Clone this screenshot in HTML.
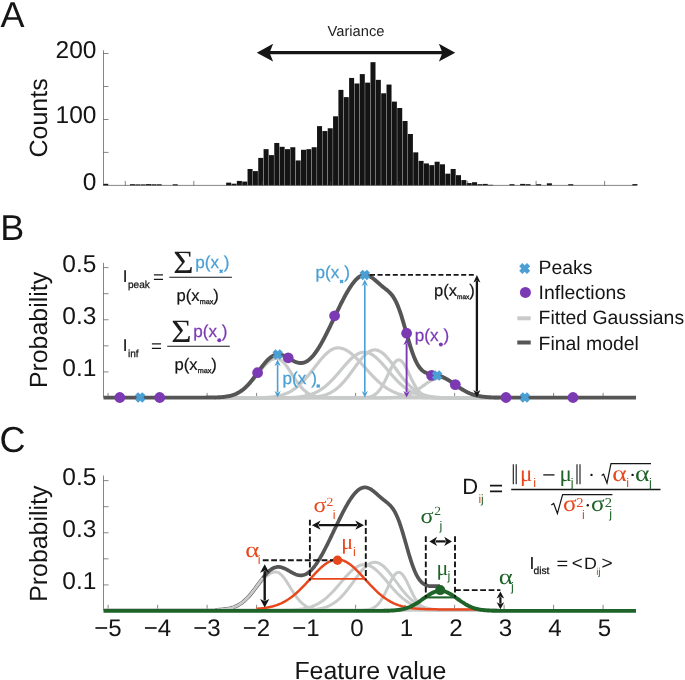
<!DOCTYPE html>
<html><head><meta charset="utf-8"><title>Figure</title>
<style>html,body{margin:0;padding:0;background:#fff}svg{display:block}text{text-rendering:geometricPrecision}</style></head>
<body>
<svg width="685" height="680" viewBox="0 0 685 680">
<rect width="685" height="680" fill="#ffffff"/>
<text transform="translate(0.5 26.8) scale(1 1)" font-size="36" fill="#151515" text-anchor="start" font-family='"Liberation Sans", sans-serif' >A</text>
<text transform="translate(0.2 240.1) scale(1 1)" font-size="36" fill="#151515" text-anchor="start" font-family='"Liberation Sans", sans-serif' >B</text>
<text transform="translate(-0.4 451.5) scale(1 1)" font-size="36" fill="#151515" text-anchor="start" font-family='"Liberation Sans", sans-serif' >C</text>
<g fill="#141414">
<rect x="103.23" y="183.80" width="5.02" height="1.60"/>
<rect x="129.95" y="184.20" width="5.02" height="1.20"/>
<rect x="135.29" y="184.40" width="5.02" height="1.00"/>
<rect x="140.64" y="184.40" width="5.02" height="1.00"/>
<rect x="145.98" y="184.10" width="5.02" height="1.30"/>
<rect x="151.33" y="184.30" width="5.02" height="1.10"/>
<rect x="156.67" y="184.30" width="5.02" height="1.10"/>
<rect x="172.71" y="184.30" width="5.02" height="1.10"/>
<rect x="226.16" y="182.63" width="5.02" height="2.77"/>
<rect x="231.50" y="183.69" width="5.02" height="1.71"/>
<rect x="236.85" y="180.92" width="5.02" height="4.48"/>
<rect x="242.19" y="181.56" width="5.02" height="3.84"/>
<rect x="247.54" y="168.98" width="5.02" height="16.42"/>
<rect x="252.88" y="171.11" width="5.02" height="14.29"/>
<rect x="258.23" y="157.89" width="5.02" height="27.51"/>
<rect x="263.58" y="149.15" width="5.02" height="36.25"/>
<rect x="268.92" y="155.12" width="5.02" height="30.28"/>
<rect x="274.27" y="142.97" width="5.02" height="42.43"/>
<rect x="279.61" y="146.81" width="5.02" height="38.59"/>
<rect x="284.96" y="149.15" width="5.02" height="36.25"/>
<rect x="290.30" y="147.23" width="5.02" height="38.17"/>
<rect x="295.65" y="160.45" width="5.02" height="24.95"/>
<rect x="300.99" y="149.79" width="5.02" height="35.61"/>
<rect x="306.34" y="149.15" width="5.02" height="36.25"/>
<rect x="311.68" y="147.23" width="5.02" height="38.17"/>
<rect x="317.03" y="126.12" width="5.02" height="59.28"/>
<rect x="322.37" y="131.03" width="5.02" height="54.37"/>
<rect x="327.72" y="128.26" width="5.02" height="57.14"/>
<rect x="333.06" y="116.32" width="5.02" height="69.08"/>
<rect x="338.41" y="89.88" width="5.02" height="95.52"/>
<rect x="343.75" y="97.13" width="5.02" height="88.27"/>
<rect x="349.10" y="77.94" width="5.02" height="107.46"/>
<rect x="354.44" y="83.48" width="5.02" height="101.92"/>
<rect x="359.79" y="74.10" width="5.02" height="111.30"/>
<rect x="365.13" y="82.63" width="5.02" height="102.77"/>
<rect x="370.48" y="62.16" width="5.02" height="123.24"/>
<rect x="375.82" y="79.86" width="5.02" height="105.54"/>
<rect x="381.17" y="93.29" width="5.02" height="92.11"/>
<rect x="386.51" y="84.55" width="5.02" height="100.85"/>
<rect x="391.86" y="101.60" width="5.02" height="83.80"/>
<rect x="397.20" y="108.00" width="5.02" height="77.40"/>
<rect x="402.55" y="121.01" width="5.02" height="64.39"/>
<rect x="407.89" y="134.01" width="5.02" height="51.39"/>
<rect x="413.24" y="152.35" width="5.02" height="33.05"/>
<rect x="418.58" y="160.88" width="5.02" height="24.52"/>
<rect x="423.93" y="163.44" width="5.02" height="21.96"/>
<rect x="429.27" y="165.14" width="5.02" height="20.26"/>
<rect x="434.62" y="161.73" width="5.02" height="23.67"/>
<rect x="439.96" y="164.29" width="5.02" height="21.11"/>
<rect x="445.31" y="173.67" width="5.02" height="11.73"/>
<rect x="450.65" y="168.98" width="5.02" height="16.42"/>
<rect x="456.00" y="175.17" width="5.02" height="10.23"/>
<rect x="461.34" y="180.07" width="5.02" height="5.33"/>
<rect x="466.69" y="183.05" width="5.02" height="2.35"/>
<rect x="472.03" y="182.20" width="5.02" height="3.20"/>
<rect x="477.38" y="184.20" width="5.02" height="1.20"/>
<rect x="482.72" y="183.90" width="5.02" height="1.50"/>
<rect x="488.06" y="184.80" width="5.02" height="0.60"/>
<rect x="509.44" y="184.20" width="5.02" height="1.20"/>
<rect x="520.13" y="183.90" width="5.02" height="1.50"/>
<rect x="525.48" y="184.20" width="5.02" height="1.20"/>
<rect x="536.17" y="184.20" width="5.02" height="1.20"/>
<rect x="546.86" y="183.30" width="5.02" height="2.10"/>
<rect x="568.24" y="184.20" width="5.02" height="1.20"/>
<rect x="632.38" y="184.10" width="5.02" height="1.30"/>
</g>
<line x1="103.50" y1="50.30" x2="103.50" y2="185.70" stroke="#444444" stroke-width="0.65" />
<line x1="103.50" y1="185.40" x2="637.20" y2="185.40" stroke="#444444" stroke-width="0.65" />
<line x1="103.50" y1="53.50" x2="108.50" y2="53.50" stroke="#444444" stroke-width="0.65" />
<line x1="103.50" y1="86.50" x2="108.50" y2="86.50" stroke="#444444" stroke-width="0.65" />
<line x1="103.50" y1="119.50" x2="108.50" y2="119.50" stroke="#444444" stroke-width="0.65" />
<line x1="103.50" y1="152.40" x2="108.50" y2="152.40" stroke="#444444" stroke-width="0.65" />
<line x1="125.30" y1="185.40" x2="125.30" y2="180.90" stroke="#444444" stroke-width="0.65" />
<line x1="193.80" y1="185.40" x2="193.80" y2="180.90" stroke="#444444" stroke-width="0.65" />
<line x1="262.20" y1="185.40" x2="262.20" y2="180.90" stroke="#444444" stroke-width="0.65" />
<line x1="330.70" y1="185.40" x2="330.70" y2="180.90" stroke="#444444" stroke-width="0.65" />
<line x1="399.20" y1="185.40" x2="399.20" y2="180.90" stroke="#444444" stroke-width="0.65" />
<line x1="467.70" y1="185.40" x2="467.70" y2="180.90" stroke="#444444" stroke-width="0.65" />
<line x1="536.10" y1="185.40" x2="536.10" y2="180.90" stroke="#444444" stroke-width="0.65" />
<line x1="604.60" y1="185.40" x2="604.60" y2="180.90" stroke="#444444" stroke-width="0.65" />
<text transform="translate(96.4 58.0) scale(1.0 1)" font-size="24.5" fill="#151515" text-anchor="end" font-family='"Liberation Sans", sans-serif' >200</text>
<text transform="translate(96.4 123.0) scale(1.0 1)" font-size="24.5" fill="#151515" text-anchor="end" font-family='"Liberation Sans", sans-serif' >100</text>
<text transform="translate(96.4 189.5) scale(1.0 1)" font-size="24.5" fill="#151515" text-anchor="end" font-family='"Liberation Sans", sans-serif' >0</text>
<text transform="translate(47.2,117.9) rotate(-90)" font-size="25" fill="#151515" text-anchor="middle" font-family='"Liberation Sans", sans-serif'>Counts</text>
<text transform="translate(356 35.6) scale(1 1)" font-size="14.7" fill="#222222" text-anchor="middle" font-family='"Liberation Sans", sans-serif' >Variance</text>
<line x1="266.80" y1="52.70" x2="445.20" y2="52.70" stroke="#151515" stroke-width="3.3" />
<path d="M256.8,52.7 L273.1,43.800000000000004 L269.6,52.7 L273.1,61.6Z" fill="#151515"/>
<path d="M455.2,52.7 L438.9,43.800000000000004 L442.4,52.7 L438.9,61.6Z" fill="#151515"/>
<line x1="103.50" y1="262.90" x2="103.50" y2="397.60" stroke="#444444" stroke-width="0.65" />
<line x1="103.50" y1="371.92" x2="108.50" y2="371.92" stroke="#444444" stroke-width="0.65" />
<line x1="103.50" y1="345.84" x2="108.50" y2="345.84" stroke="#444444" stroke-width="0.65" />
<line x1="103.50" y1="319.76" x2="108.50" y2="319.76" stroke="#444444" stroke-width="0.65" />
<line x1="103.50" y1="293.68" x2="108.50" y2="293.68" stroke="#444444" stroke-width="0.65" />
<line x1="103.50" y1="267.60" x2="108.50" y2="267.60" stroke="#444444" stroke-width="0.65" />
<line x1="108.10" y1="397.60" x2="108.10" y2="392.90" stroke="#444444" stroke-width="0.65" />
<line x1="157.60" y1="397.60" x2="157.60" y2="392.90" stroke="#444444" stroke-width="0.65" />
<line x1="207.10" y1="397.60" x2="207.10" y2="392.90" stroke="#444444" stroke-width="0.65" />
<line x1="256.60" y1="397.60" x2="256.60" y2="392.90" stroke="#444444" stroke-width="0.65" />
<line x1="306.10" y1="397.60" x2="306.10" y2="392.90" stroke="#444444" stroke-width="0.65" />
<line x1="355.60" y1="397.60" x2="355.60" y2="392.90" stroke="#444444" stroke-width="0.65" />
<line x1="405.10" y1="397.60" x2="405.10" y2="392.90" stroke="#444444" stroke-width="0.65" />
<line x1="454.60" y1="397.60" x2="454.60" y2="392.90" stroke="#444444" stroke-width="0.65" />
<line x1="504.10" y1="397.60" x2="504.10" y2="392.90" stroke="#444444" stroke-width="0.65" />
<line x1="553.60" y1="397.60" x2="553.60" y2="392.90" stroke="#444444" stroke-width="0.65" />
<line x1="603.10" y1="397.60" x2="603.10" y2="392.90" stroke="#444444" stroke-width="0.65" />
<text transform="translate(96.4 271.6) scale(1.0 1)" font-size="24.5" fill="#151515" text-anchor="end" font-family='"Liberation Sans", sans-serif' >0.5</text>
<text transform="translate(96.4 323.8) scale(1.0 1)" font-size="24.5" fill="#151515" text-anchor="end" font-family='"Liberation Sans", sans-serif' >0.3</text>
<text transform="translate(96.4 376.0) scale(1.0 1)" font-size="24.5" fill="#151515" text-anchor="end" font-family='"Liberation Sans", sans-serif' >0.1</text>
<text transform="translate(46.9,330.0) rotate(-90)" font-size="24.9" fill="#151515" text-anchor="middle" font-family='"Liberation Sans", sans-serif'>Probability</text>
<path d="M215.00,397.73 L215.75,397.71 L216.50,397.68 L217.25,397.65 L218.00,397.62 L218.75,397.58 L219.50,397.54 L220.25,397.49 L221.00,397.44 L221.75,397.38 L222.50,397.32 L223.25,397.24 L224.00,397.16 L224.75,397.08 L225.50,396.98 L226.25,396.87 L227.00,396.76 L227.75,396.63 L228.50,396.49 L229.25,396.33 L230.00,396.16 L230.75,395.98 L231.50,395.78 L232.25,395.57 L233.00,395.34 L233.75,395.08 L234.50,394.81 L235.25,394.52 L236.00,394.21 L236.75,393.87 L237.50,393.52 L238.25,393.13 L239.00,392.72 L239.75,392.29 L240.50,391.83 L241.25,391.34 L242.00,390.83 L242.75,390.29 L243.50,389.71 L244.25,389.11 L245.00,388.49 L245.75,387.83 L246.50,387.14 L247.25,386.43 L248.00,385.69 L248.75,384.92 L249.50,384.13 L250.25,383.31 L251.00,382.47 L251.75,381.60 L252.50,380.72 L253.25,379.82 L254.00,378.90 L254.75,377.96 L255.50,377.02 L256.25,376.06 L257.00,375.10 L257.75,374.14 L258.50,373.17 L259.25,372.21 L260.00,371.25 L260.75,370.30 L261.50,369.37 L262.25,368.45 L263.00,367.55 L263.75,366.67 L264.50,365.82 L265.25,365.00 L266.00,364.22 L266.75,363.47 L267.50,362.76 L268.25,362.10 L269.00,361.48 L269.75,360.92 L270.50,360.40 L271.25,359.94 L272.00,359.54 L272.75,359.19 L273.50,358.91 L274.25,358.69 L275.00,358.53 L275.75,358.43 L276.50,358.40 L277.25,358.45 L278.00,358.59 L278.75,358.82 L279.50,359.15 L280.25,359.57 L281.00,360.07 L281.75,360.66 L282.50,361.32 L283.25,362.06 L284.00,362.87 L284.75,363.74 L285.50,364.68 L286.25,365.66 L287.00,366.69 L287.75,367.76 L288.50,368.86 L289.25,369.99 L290.00,371.14 L290.75,372.30 L291.50,373.47 L292.25,374.65 L293.00,375.82 L293.75,376.98 L294.50,378.13 L295.25,379.26 L296.00,380.37 L296.75,381.45 L297.50,382.50 L298.25,383.52 L299.00,384.50 L299.75,385.45 L300.50,386.36 L301.25,387.22 L302.00,388.05 L302.75,388.83 L303.50,389.58 L304.25,390.27 L305.00,390.93 L305.75,391.55 L306.50,392.12 L307.25,392.66 L308.00,393.16 L308.75,393.62 L309.50,394.04 L310.25,394.43 L311.00,394.79 L311.75,395.12 L312.50,395.42 L313.25,395.69 L314.00,395.94 L314.75,396.16 L315.50,396.37 L316.25,396.55 L317.00,396.71 L317.75,396.86 L318.50,396.99 L319.25,397.10 L320.00,397.21 L320.75,397.30 L321.50,397.38 L322.25,397.45 L323.00,397.51 L323.75,397.56 L324.50,397.61 L325.25,397.65 L326.00,397.69 L326.75,397.72 L327.50,397.75 L328.25,397.77 L329.00,397.79 L329.75,397.81 L330.50,397.82 L331.25,397.83 L332.00,397.85 L332.75,397.85 L333.50,397.86 L334.25,397.87 L335.00,397.87 L335.75,397.88 L336.50,397.88 L337.25,397.89 L338.00,397.89 L338.75,397.89 L339.50,397.89 L340.25,397.89 L341.00,397.89 L341.75,397.90 L342.50,397.90 L343.25,397.90 L344.00,397.90 L344.75,397.90 L345.50,397.90 L346.25,397.90 L347.00,397.90 L347.75,397.90 L348.50,397.90 L349.25,397.90 L350.00,397.90 L350.75,397.90 L351.50,397.90 L352.25,397.90 L353.00,397.90 L353.75,397.90 L354.50,397.90 L355.25,397.90 L356.00,397.90 L356.75,397.90 L357.50,397.90 L358.25,397.90 L359.00,397.90 L359.75,397.90 L360.50,397.90 L361.25,397.90 L362.00,397.90 L362.75,397.90 L363.50,397.90 L364.25,397.90 L365.00,397.90 L365.75,397.90 L366.50,397.90 L367.25,397.90 L368.00,397.90 L368.75,397.90 L369.50,397.90 L370.25,397.90 L371.00,397.90 L371.75,397.90 L372.50,397.90 L373.25,397.90 L374.00,397.90 L374.75,397.90 L375.50,397.90 L376.25,397.90 L377.00,397.90 L377.75,397.90 L378.50,397.90 L379.25,397.90 L380.00,397.90 L380.75,397.90 L381.50,397.90 L382.25,397.90 L383.00,397.90 L383.75,397.90 L384.50,397.90 L385.25,397.90 L386.00,397.90 L386.75,397.90 L387.50,397.90 L388.25,397.90 L389.00,397.90 L389.75,397.90 L390.50,397.90 L391.25,397.90 L392.00,397.90 L392.75,397.90 L393.50,397.90 L394.25,397.90 L395.00,397.90 L395.75,397.90 L396.50,397.90 L397.25,397.90 L398.00,397.90 L398.75,397.90 L399.50,397.90 L400.25,397.90 L401.00,397.90 L401.75,397.90 L402.50,397.90 L403.25,397.90 L404.00,397.90 L404.75,397.90 L405.50,397.90 L406.25,397.90 L407.00,397.90 L407.75,397.90 L408.50,397.90 L409.25,397.90 L410.00,397.90 L410.75,397.90 L411.50,397.90 L412.25,397.90 L413.00,397.90 L413.75,397.90 L414.50,397.90 L415.25,397.90 L416.00,397.90 L416.75,397.90 L417.50,397.90 L418.25,397.90 L419.00,397.90 L419.75,397.90 L420.50,397.90 L421.25,397.90 L422.00,397.90 L422.75,397.90 L423.50,397.90 L424.25,397.90 L425.00,397.90 L425.75,397.90 L426.50,397.90 L427.25,397.90 L428.00,397.90 L428.75,397.90 L429.50,397.90 L430.25,397.90 L431.00,397.90 L431.75,397.90 L432.50,397.90 L433.25,397.90 L434.00,397.90 L434.75,397.90 L435.50,397.90 L436.25,397.90 L437.00,397.90 L437.75,397.90 L438.50,397.90 L439.25,397.90 L440.00,397.90 L440.75,397.90 L441.50,397.90 L442.25,397.90 L443.00,397.90 L443.75,397.90 L444.50,397.90 L445.25,397.90 L446.00,397.90 L446.75,397.90 L447.50,397.90 L448.25,397.90 L449.00,397.90 L449.75,397.90 L450.50,397.90 L451.25,397.90 L452.00,397.90 L452.75,397.90 L453.50,397.90 L454.25,397.90 L455.00,397.90 L455.75,397.90 L456.50,397.90 L457.25,397.90 L458.00,397.90 L458.75,397.90 L459.50,397.90 L460.25,397.90 L461.00,397.90 L461.75,397.90 L462.50,397.90 L463.25,397.90 L464.00,397.90 L464.75,397.90 L465.50,397.90 L466.25,397.90 L467.00,397.90 L467.75,397.90 L468.50,397.90 L469.25,397.90 L470.00,397.90 L470.75,397.90 L471.50,397.90 L472.25,397.90 L473.00,397.90 L473.75,397.90 L474.50,397.90 L475.25,397.90 L476.00,397.90 L476.75,397.90 L477.50,397.90 L478.25,397.90 L479.00,397.90 L479.75,397.90 L480.50,397.90 L481.25,397.90 L482.00,397.90 L482.75,397.90 L483.50,397.90 L484.25,397.90 L485.00,397.90 L485.75,397.90 L486.50,397.90 L487.25,397.90 L488.00,397.90 L488.75,397.90 L489.50,397.90 L490.25,397.90 L491.00,397.90 L491.75,397.90 L492.50,397.90 L493.25,397.90 L494.00,397.90 L494.75,397.90 L495.50,397.90 L496.25,397.90 L497.00,397.90 L497.75,397.90 L498.50,397.90 L499.25,397.90" fill="none" stroke="#c9cbca" stroke-width="3.2" stroke-linejoin="round"/>
<path d="M215.00,397.90 L215.75,397.90 L216.50,397.90 L217.25,397.90 L218.00,397.90 L218.75,397.90 L219.50,397.90 L220.25,397.90 L221.00,397.90 L221.75,397.90 L222.50,397.90 L223.25,397.90 L224.00,397.90 L224.75,397.90 L225.50,397.90 L226.25,397.90 L227.00,397.90 L227.75,397.90 L228.50,397.90 L229.25,397.90 L230.00,397.90 L230.75,397.90 L231.50,397.90 L232.25,397.90 L233.00,397.90 L233.75,397.90 L234.50,397.90 L235.25,397.90 L236.00,397.90 L236.75,397.90 L237.50,397.89 L238.25,397.89 L239.00,397.89 L239.75,397.89 L240.50,397.89 L241.25,397.89 L242.00,397.89 L242.75,397.89 L243.50,397.88 L244.25,397.88 L245.00,397.88 L245.75,397.88 L246.50,397.87 L247.25,397.87 L248.00,397.87 L248.75,397.86 L249.50,397.86 L250.25,397.85 L251.00,397.85 L251.75,397.84 L252.50,397.83 L253.25,397.83 L254.00,397.82 L254.75,397.81 L255.50,397.79 L256.25,397.78 L257.00,397.77 L257.75,397.75 L258.50,397.74 L259.25,397.72 L260.00,397.70 L260.75,397.67 L261.50,397.65 L262.25,397.62 L263.00,397.59 L263.75,397.56 L264.50,397.52 L265.25,397.49 L266.00,397.44 L266.75,397.40 L267.50,397.34 L268.25,397.29 L269.00,397.23 L269.75,397.16 L270.50,397.09 L271.25,397.01 L272.00,396.93 L272.75,396.84 L273.50,396.74 L274.25,396.64 L275.00,396.52 L275.75,396.40 L276.50,396.27 L277.25,396.13 L278.00,395.98 L278.75,395.82 L279.50,395.64 L280.25,395.46 L281.00,395.26 L281.75,395.05 L282.50,394.83 L283.25,394.59 L284.00,394.33 L284.75,394.06 L285.50,393.78 L286.25,393.47 L287.00,393.15 L287.75,392.82 L288.50,392.46 L289.25,392.09 L290.00,391.69 L290.75,391.28 L291.50,390.84 L292.25,390.38 L293.00,389.91 L293.75,389.41 L294.50,388.89 L295.25,388.34 L296.00,387.78 L296.75,387.19 L297.50,386.58 L298.25,385.94 L299.00,385.28 L299.75,384.61 L300.50,383.90 L301.25,383.18 L302.00,382.43 L302.75,381.67 L303.50,380.88 L304.25,380.07 L305.00,379.25 L305.75,378.40 L306.50,377.54 L307.25,376.66 L308.00,375.76 L308.75,374.86 L309.50,373.93 L310.25,373.00 L311.00,372.06 L311.75,371.11 L312.50,370.15 L313.25,369.19 L314.00,368.22 L314.75,367.25 L315.50,366.28 L316.25,365.32 L317.00,364.36 L317.75,363.41 L318.50,362.46 L319.25,361.53 L320.00,360.61 L320.75,359.71 L321.50,358.82 L322.25,357.96 L323.00,357.12 L323.75,356.30 L324.50,355.51 L325.25,354.74 L326.00,354.01 L326.75,353.31 L327.50,352.65 L328.25,352.02 L329.00,351.44 L329.75,350.89 L330.50,350.38 L331.25,349.92 L332.00,349.50 L332.75,349.13 L333.50,348.81 L334.25,348.53 L335.00,348.31 L335.75,348.13 L336.50,348.00 L337.25,347.93 L338.00,347.90 L338.75,347.92 L339.50,347.98 L340.25,348.07 L341.00,348.21 L341.75,348.38 L342.50,348.59 L343.25,348.84 L344.00,349.12 L344.75,349.44 L345.50,349.79 L346.25,350.18 L347.00,350.60 L347.75,351.06 L348.50,351.54 L349.25,352.06 L350.00,352.60 L350.75,353.18 L351.50,353.78 L352.25,354.40 L353.00,355.05 L353.75,355.72 L354.50,356.42 L355.25,357.13 L356.00,357.86 L356.75,358.61 L357.50,359.38 L358.25,360.16 L359.00,360.95 L359.75,361.75 L360.50,362.57 L361.25,363.39 L362.00,364.22 L362.75,365.05 L363.50,365.89 L364.25,366.73 L365.00,367.57 L365.75,368.42 L366.50,369.26 L367.25,370.09 L368.00,370.93 L368.75,371.76 L369.50,372.58 L370.25,373.40 L371.00,374.21 L371.75,375.01 L372.50,375.80 L373.25,376.58 L374.00,377.34 L374.75,378.10 L375.50,378.84 L376.25,379.57 L377.00,380.28 L377.75,380.98 L378.50,381.67 L379.25,382.34 L380.00,382.99 L380.75,383.62 L381.50,384.24 L382.25,384.85 L383.00,385.43 L383.75,386.00 L384.50,386.55 L385.25,387.09 L386.00,387.60 L386.75,388.10 L387.50,388.59 L388.25,389.05 L389.00,389.50 L389.75,389.93 L390.50,390.35 L391.25,390.75 L392.00,391.13 L392.75,391.50 L393.50,391.85 L394.25,392.19 L395.00,392.51 L395.75,392.82 L396.50,393.12 L397.25,393.40 L398.00,393.67 L398.75,393.92 L399.50,394.16 L400.25,394.39 L401.00,394.61 L401.75,394.82 L402.50,395.02 L403.25,395.20 L404.00,395.38 L404.75,395.55 L405.50,395.70 L406.25,395.85 L407.00,395.99 L407.75,396.12 L408.50,396.25 L409.25,396.36 L410.00,396.47 L410.75,396.57 L411.50,396.67 L412.25,396.76 L413.00,396.84 L413.75,396.92 L414.50,397.00 L415.25,397.07 L416.00,397.13 L416.75,397.19 L417.50,397.24 L418.25,397.30 L419.00,397.34 L419.75,397.39 L420.50,397.43 L421.25,397.47 L422.00,397.50 L422.75,397.54 L423.50,397.57 L424.25,397.60 L425.00,397.62 L425.75,397.65 L426.50,397.67 L427.25,397.69 L428.00,397.71 L428.75,397.72 L429.50,397.74 L430.25,397.75 L431.00,397.77 L431.75,397.78 L432.50,397.79 L433.25,397.80 L434.00,397.81 L434.75,397.82 L435.50,397.83 L436.25,397.83 L437.00,397.84 L437.75,397.85 L438.50,397.85 L439.25,397.86 L440.00,397.86 L440.75,397.86 L441.50,397.87 L442.25,397.87 L443.00,397.87 L443.75,397.88 L444.50,397.88 L445.25,397.88 L446.00,397.88 L446.75,397.88 L447.50,397.89 L448.25,397.89 L449.00,397.89 L449.75,397.89 L450.50,397.89 L451.25,397.89 L452.00,397.89 L452.75,397.89 L453.50,397.89 L454.25,397.90 L455.00,397.90 L455.75,397.90 L456.50,397.90 L457.25,397.90 L458.00,397.90 L458.75,397.90 L459.50,397.90 L460.25,397.90 L461.00,397.90 L461.75,397.90 L462.50,397.90 L463.25,397.90 L464.00,397.90 L464.75,397.90 L465.50,397.90 L466.25,397.90 L467.00,397.90 L467.75,397.90 L468.50,397.90 L469.25,397.90 L470.00,397.90 L470.75,397.90 L471.50,397.90 L472.25,397.90 L473.00,397.90 L473.75,397.90 L474.50,397.90 L475.25,397.90 L476.00,397.90 L476.75,397.90 L477.50,397.90 L478.25,397.90 L479.00,397.90 L479.75,397.90 L480.50,397.90 L481.25,397.90 L482.00,397.90 L482.75,397.90 L483.50,397.90 L484.25,397.90 L485.00,397.90 L485.75,397.90 L486.50,397.90 L487.25,397.90 L488.00,397.90 L488.75,397.90 L489.50,397.90 L490.25,397.90 L491.00,397.90 L491.75,397.90 L492.50,397.90 L493.25,397.90 L494.00,397.90 L494.75,397.90 L495.50,397.90 L496.25,397.90 L497.00,397.90 L497.75,397.90 L498.50,397.90 L499.25,397.90" fill="none" stroke="#c9cbca" stroke-width="3.2" stroke-linejoin="round"/>
<path d="M215.00,397.90 L215.75,397.90 L216.50,397.90 L217.25,397.90 L218.00,397.90 L218.75,397.90 L219.50,397.90 L220.25,397.90 L221.00,397.90 L221.75,397.90 L222.50,397.90 L223.25,397.90 L224.00,397.90 L224.75,397.90 L225.50,397.90 L226.25,397.90 L227.00,397.90 L227.75,397.90 L228.50,397.90 L229.25,397.90 L230.00,397.90 L230.75,397.90 L231.50,397.90 L232.25,397.90 L233.00,397.90 L233.75,397.90 L234.50,397.90 L235.25,397.90 L236.00,397.90 L236.75,397.90 L237.50,397.90 L238.25,397.90 L239.00,397.90 L239.75,397.90 L240.50,397.90 L241.25,397.90 L242.00,397.90 L242.75,397.90 L243.50,397.90 L244.25,397.90 L245.00,397.90 L245.75,397.90 L246.50,397.90 L247.25,397.90 L248.00,397.90 L248.75,397.90 L249.50,397.90 L250.25,397.90 L251.00,397.90 L251.75,397.90 L252.50,397.90 L253.25,397.90 L254.00,397.90 L254.75,397.90 L255.50,397.90 L256.25,397.90 L257.00,397.90 L257.75,397.90 L258.50,397.90 L259.25,397.90 L260.00,397.90 L260.75,397.90 L261.50,397.90 L262.25,397.90 L263.00,397.90 L263.75,397.90 L264.50,397.90 L265.25,397.90 L266.00,397.90 L266.75,397.90 L267.50,397.90 L268.25,397.90 L269.00,397.90 L269.75,397.90 L270.50,397.90 L271.25,397.90 L272.00,397.90 L272.75,397.90 L273.50,397.90 L274.25,397.90 L275.00,397.90 L275.75,397.90 L276.50,397.90 L277.25,397.90 L278.00,397.90 L278.75,397.90 L279.50,397.90 L280.25,397.90 L281.00,397.90 L281.75,397.90 L282.50,397.90 L283.25,397.90 L284.00,397.90 L284.75,397.90 L285.50,397.89 L286.25,397.89 L287.00,397.89 L287.75,397.89 L288.50,397.89 L289.25,397.89 L290.00,397.89 L290.75,397.88 L291.50,397.88 L292.25,397.88 L293.00,397.88 L293.75,397.87 L294.50,397.87 L295.25,397.86 L296.00,397.86 L296.75,397.85 L297.50,397.85 L298.25,397.84 L299.00,397.83 L299.75,397.82 L300.50,397.81 L301.25,397.80 L302.00,397.78 L302.75,397.77 L303.50,397.75 L304.25,397.73 L305.00,397.71 L305.75,397.68 L306.50,397.66 L307.25,397.63 L308.00,397.60 L308.75,397.56 L309.50,397.52 L310.25,397.47 L311.00,397.42 L311.75,397.37 L312.50,397.31 L313.25,397.25 L314.00,397.17 L314.75,397.10 L315.50,397.01 L316.25,396.92 L317.00,396.81 L317.75,396.70 L318.50,396.58 L319.25,396.45 L320.00,396.31 L320.75,396.15 L321.50,395.98 L322.25,395.80 L323.00,395.61 L323.75,395.40 L324.50,395.17 L325.25,394.93 L326.00,394.67 L326.75,394.40 L327.50,394.10 L328.25,393.79 L329.00,393.45 L329.75,393.09 L330.50,392.71 L331.25,392.31 L332.00,391.88 L332.75,391.43 L333.50,390.96 L334.25,390.46 L335.00,389.93 L335.75,389.38 L336.50,388.80 L337.25,388.20 L338.00,387.56 L338.75,386.90 L339.50,386.21 L340.25,385.50 L341.00,384.76 L341.75,383.99 L342.50,383.19 L343.25,382.37 L344.00,381.53 L344.75,380.66 L345.50,379.76 L346.25,378.85 L347.00,377.92 L347.75,376.96 L348.50,375.99 L349.25,375.00 L350.00,374.00 L350.75,372.99 L351.50,371.96 L352.25,370.93 L353.00,369.90 L353.75,368.86 L354.50,367.82 L355.25,366.78 L356.00,365.75 L356.75,364.72 L357.50,363.71 L358.25,362.71 L359.00,361.73 L359.75,360.77 L360.50,359.83 L361.25,358.92 L362.00,358.04 L362.75,357.19 L363.50,356.37 L364.25,355.59 L365.00,354.85 L365.75,354.16 L366.50,353.51 L367.25,352.90 L368.00,352.35 L368.75,351.85 L369.50,351.40 L370.25,351.01 L371.00,350.68 L371.75,350.40 L372.50,350.19 L373.25,350.03 L374.00,349.93 L374.75,349.90 L375.50,349.93 L376.25,350.01 L377.00,350.16 L377.75,350.37 L378.50,350.64 L379.25,350.97 L380.00,351.35 L380.75,351.79 L381.50,352.28 L382.25,352.83 L383.00,353.42 L383.75,354.07 L384.50,354.76 L385.25,355.49 L386.00,356.26 L386.75,357.08 L387.50,357.92 L388.25,358.80 L389.00,359.71 L389.75,360.64 L390.50,361.60 L391.25,362.58 L392.00,363.58 L392.75,364.59 L393.50,365.61 L394.25,366.64 L395.00,367.68 L395.75,368.72 L396.50,369.76 L397.25,370.79 L398.00,371.83 L398.75,372.85 L399.50,373.87 L400.25,374.87 L401.00,375.86 L401.75,376.83 L402.50,377.79 L403.25,378.73 L404.00,379.64 L404.75,380.54 L405.50,381.41 L406.25,382.26 L407.00,383.08 L407.75,383.88 L408.50,384.66 L409.25,385.40 L410.00,386.12 L410.75,386.81 L411.50,387.48 L412.25,388.11 L413.00,388.72 L413.75,389.31 L414.50,389.86 L415.25,390.39 L416.00,390.89 L416.75,391.37 L417.50,391.83 L418.25,392.26 L419.00,392.66 L419.75,393.04 L420.50,393.40 L421.25,393.74 L422.00,394.06 L422.75,394.36 L423.50,394.64 L424.25,394.90 L425.00,395.14 L425.75,395.37 L426.50,395.58 L427.25,395.78 L428.00,395.96 L428.75,396.13 L429.50,396.29 L430.25,396.43 L431.00,396.56 L431.75,396.69 L432.50,396.80 L433.25,396.90 L434.00,397.00 L434.75,397.08 L435.50,397.16 L436.25,397.24 L437.00,397.30 L437.75,397.36 L438.50,397.42 L439.25,397.47 L440.00,397.51 L440.75,397.55 L441.50,397.59 L442.25,397.62 L443.00,397.65 L443.75,397.68 L444.50,397.71 L445.25,397.73 L446.00,397.75 L446.75,397.76 L447.50,397.78 L448.25,397.79 L449.00,397.81 L449.75,397.82 L450.50,397.83 L451.25,397.84 L452.00,397.84 L452.75,397.85 L453.50,397.86 L454.25,397.86 L455.00,397.87 L455.75,397.87 L456.50,397.88 L457.25,397.88 L458.00,397.88 L458.75,397.88 L459.50,397.89 L460.25,397.89 L461.00,397.89 L461.75,397.89 L462.50,397.89 L463.25,397.89 L464.00,397.89 L464.75,397.90 L465.50,397.90 L466.25,397.90 L467.00,397.90 L467.75,397.90 L468.50,397.90 L469.25,397.90 L470.00,397.90 L470.75,397.90 L471.50,397.90 L472.25,397.90 L473.00,397.90 L473.75,397.90 L474.50,397.90 L475.25,397.90 L476.00,397.90 L476.75,397.90 L477.50,397.90 L478.25,397.90 L479.00,397.90 L479.75,397.90 L480.50,397.90 L481.25,397.90 L482.00,397.90 L482.75,397.90 L483.50,397.90 L484.25,397.90 L485.00,397.90 L485.75,397.90 L486.50,397.90 L487.25,397.90 L488.00,397.90 L488.75,397.90 L489.50,397.90 L490.25,397.90 L491.00,397.90 L491.75,397.90 L492.50,397.90 L493.25,397.90 L494.00,397.90 L494.75,397.90 L495.50,397.90 L496.25,397.90 L497.00,397.90 L497.75,397.90 L498.50,397.90 L499.25,397.90" fill="none" stroke="#c9cbca" stroke-width="3.2" stroke-linejoin="round"/>
<path d="M215.00,397.90 L215.75,397.90 L216.50,397.90 L217.25,397.90 L218.00,397.90 L218.75,397.90 L219.50,397.90 L220.25,397.90 L221.00,397.90 L221.75,397.90 L222.50,397.90 L223.25,397.90 L224.00,397.90 L224.75,397.90 L225.50,397.90 L226.25,397.90 L227.00,397.90 L227.75,397.90 L228.50,397.90 L229.25,397.90 L230.00,397.90 L230.75,397.90 L231.50,397.90 L232.25,397.90 L233.00,397.90 L233.75,397.90 L234.50,397.90 L235.25,397.90 L236.00,397.90 L236.75,397.90 L237.50,397.90 L238.25,397.90 L239.00,397.90 L239.75,397.90 L240.50,397.90 L241.25,397.90 L242.00,397.90 L242.75,397.90 L243.50,397.90 L244.25,397.90 L245.00,397.90 L245.75,397.90 L246.50,397.90 L247.25,397.90 L248.00,397.90 L248.75,397.90 L249.50,397.90 L250.25,397.90 L251.00,397.90 L251.75,397.90 L252.50,397.90 L253.25,397.90 L254.00,397.90 L254.75,397.90 L255.50,397.90 L256.25,397.90 L257.00,397.90 L257.75,397.90 L258.50,397.90 L259.25,397.90 L260.00,397.90 L260.75,397.90 L261.50,397.90 L262.25,397.90 L263.00,397.90 L263.75,397.90 L264.50,397.89 L265.25,397.89 L266.00,397.89 L266.75,397.89 L267.50,397.89 L268.25,397.89 L269.00,397.89 L269.75,397.89 L270.50,397.88 L271.25,397.88 L272.00,397.88 L272.75,397.88 L273.50,397.87 L274.25,397.87 L275.00,397.87 L275.75,397.86 L276.50,397.86 L277.25,397.85 L278.00,397.85 L278.75,397.84 L279.50,397.83 L280.25,397.82 L281.00,397.81 L281.75,397.80 L282.50,397.79 L283.25,397.78 L284.00,397.77 L284.75,397.75 L285.50,397.73 L286.25,397.72 L287.00,397.70 L287.75,397.67 L288.50,397.65 L289.25,397.62 L290.00,397.59 L290.75,397.56 L291.50,397.52 L292.25,397.48 L293.00,397.44 L293.75,397.40 L294.50,397.35 L295.25,397.29 L296.00,397.23 L296.75,397.17 L297.50,397.10 L298.25,397.02 L299.00,396.94 L299.75,396.85 L300.50,396.75 L301.25,396.65 L302.00,396.54 L302.75,396.42 L303.50,396.29 L304.25,396.15 L305.00,396.01 L305.75,395.85 L306.50,395.68 L307.25,395.50 L308.00,395.31 L308.75,395.10 L309.50,394.89 L310.25,394.66 L311.00,394.41 L311.75,394.15 L312.50,393.87 L313.25,393.58 L314.00,393.28 L314.75,392.95 L315.50,392.61 L316.25,392.25 L317.00,391.87 L317.75,391.47 L318.50,391.06 L319.25,390.62 L320.00,390.17 L320.75,389.69 L321.50,389.20 L322.25,388.68 L323.00,388.14 L323.75,387.59 L324.50,387.01 L325.25,386.41 L326.00,385.79 L326.75,385.15 L327.50,384.49 L328.25,383.81 L329.00,383.11 L329.75,382.39 L330.50,381.66 L331.25,380.90 L332.00,380.13 L332.75,379.34 L333.50,378.54 L334.25,377.72 L335.00,376.89 L335.75,376.05 L336.50,375.20 L337.25,374.34 L338.00,373.47 L338.75,372.59 L339.50,371.71 L340.25,370.83 L341.00,369.95 L341.75,369.06 L342.50,368.18 L343.25,367.30 L344.00,366.43 L344.75,365.57 L345.50,364.71 L346.25,363.87 L347.00,363.05 L347.75,362.24 L348.50,361.45 L349.25,360.67 L350.00,359.92 L350.75,359.20 L351.50,358.50 L352.25,357.83 L353.00,357.19 L353.75,356.58 L354.50,356.01 L355.25,355.47 L356.00,354.96 L356.75,354.50 L357.50,354.07 L358.25,353.69 L359.00,353.35 L359.75,353.05 L360.50,352.79 L361.25,352.58 L362.00,352.42 L362.75,352.30 L363.50,352.23 L364.25,352.20 L365.00,352.22 L365.75,352.29 L366.50,352.40 L367.25,352.56 L368.00,352.76 L368.75,353.01 L369.50,353.31 L370.25,353.64 L371.00,354.02 L371.75,354.44 L372.50,354.90 L373.25,355.40 L374.00,355.93 L374.75,356.50 L375.50,357.11 L376.25,357.74 L377.00,358.41 L377.75,359.10 L378.50,359.83 L379.25,360.57 L380.00,361.34 L380.75,362.13 L381.50,362.94 L382.25,363.76 L383.00,364.60 L383.75,365.45 L384.50,366.32 L385.25,367.19 L386.00,368.06 L386.75,368.94 L387.50,369.83 L388.25,370.71 L389.00,371.60 L389.75,372.48 L390.50,373.35 L391.25,374.22 L392.00,375.09 L392.75,375.94 L393.50,376.78 L394.25,377.61 L395.00,378.43 L395.75,379.24 L396.50,380.03 L397.25,380.80 L398.00,381.56 L398.75,382.30 L399.50,383.02 L400.25,383.72 L401.00,384.40 L401.75,385.06 L402.50,385.71 L403.25,386.33 L404.00,386.93 L404.75,387.51 L405.50,388.07 L406.25,388.61 L407.00,389.13 L407.75,389.63 L408.50,390.11 L409.25,390.56 L410.00,391.00 L410.75,391.42 L411.50,391.82 L412.25,392.20 L413.00,392.56 L413.75,392.91 L414.50,393.23 L415.25,393.54 L416.00,393.84 L416.75,394.11 L417.50,394.38 L418.25,394.62 L419.00,394.86 L419.75,395.08 L420.50,395.28 L421.25,395.48 L422.00,395.66 L422.75,395.83 L423.50,395.99 L424.25,396.14 L425.00,396.27 L425.75,396.40 L426.50,396.52 L427.25,396.64 L428.00,396.74 L428.75,396.84 L429.50,396.93 L430.25,397.01 L431.00,397.09 L431.75,397.16 L432.50,397.22 L433.25,397.28 L434.00,397.34 L434.75,397.39 L435.50,397.44 L436.25,397.48 L437.00,397.52 L437.75,397.55 L438.50,397.59 L439.25,397.62 L440.00,397.64 L440.75,397.67 L441.50,397.69 L442.25,397.71 L443.00,397.73 L443.75,397.75 L444.50,397.76 L445.25,397.78 L446.00,397.79 L446.75,397.80 L447.50,397.81 L448.25,397.82 L449.00,397.83 L449.75,397.84 L450.50,397.85 L451.25,397.85 L452.00,397.86 L452.75,397.86 L453.50,397.87 L454.25,397.87 L455.00,397.87 L455.75,397.88 L456.50,397.88 L457.25,397.88 L458.00,397.88 L458.75,397.89 L459.50,397.89 L460.25,397.89 L461.00,397.89 L461.75,397.89 L462.50,397.89 L463.25,397.89 L464.00,397.89 L464.75,397.90 L465.50,397.90 L466.25,397.90 L467.00,397.90 L467.75,397.90 L468.50,397.90 L469.25,397.90 L470.00,397.90 L470.75,397.90 L471.50,397.90 L472.25,397.90 L473.00,397.90 L473.75,397.90 L474.50,397.90 L475.25,397.90 L476.00,397.90 L476.75,397.90 L477.50,397.90 L478.25,397.90 L479.00,397.90 L479.75,397.90 L480.50,397.90 L481.25,397.90 L482.00,397.90 L482.75,397.90 L483.50,397.90 L484.25,397.90 L485.00,397.90 L485.75,397.90 L486.50,397.90 L487.25,397.90 L488.00,397.90 L488.75,397.90 L489.50,397.90 L490.25,397.90 L491.00,397.90 L491.75,397.90 L492.50,397.90 L493.25,397.90 L494.00,397.90 L494.75,397.90 L495.50,397.90 L496.25,397.90 L497.00,397.90 L497.75,397.90 L498.50,397.90 L499.25,397.90" fill="none" stroke="#c9cbca" stroke-width="3.2" stroke-linejoin="round"/>
<path d="M215.00,397.90 L215.75,397.90 L216.50,397.90 L217.25,397.90 L218.00,397.90 L218.75,397.90 L219.50,397.90 L220.25,397.90 L221.00,397.90 L221.75,397.90 L222.50,397.90 L223.25,397.90 L224.00,397.90 L224.75,397.90 L225.50,397.90 L226.25,397.90 L227.00,397.90 L227.75,397.90 L228.50,397.90 L229.25,397.90 L230.00,397.90 L230.75,397.90 L231.50,397.90 L232.25,397.90 L233.00,397.90 L233.75,397.90 L234.50,397.90 L235.25,397.90 L236.00,397.90 L236.75,397.90 L237.50,397.90 L238.25,397.90 L239.00,397.90 L239.75,397.90 L240.50,397.90 L241.25,397.90 L242.00,397.90 L242.75,397.90 L243.50,397.90 L244.25,397.90 L245.00,397.90 L245.75,397.90 L246.50,397.90 L247.25,397.90 L248.00,397.90 L248.75,397.90 L249.50,397.90 L250.25,397.90 L251.00,397.90 L251.75,397.90 L252.50,397.90 L253.25,397.90 L254.00,397.90 L254.75,397.90 L255.50,397.90 L256.25,397.90 L257.00,397.90 L257.75,397.90 L258.50,397.90 L259.25,397.90 L260.00,397.90 L260.75,397.90 L261.50,397.90 L262.25,397.90 L263.00,397.90 L263.75,397.90 L264.50,397.90 L265.25,397.90 L266.00,397.90 L266.75,397.90 L267.50,397.90 L268.25,397.90 L269.00,397.90 L269.75,397.90 L270.50,397.90 L271.25,397.90 L272.00,397.90 L272.75,397.90 L273.50,397.90 L274.25,397.90 L275.00,397.90 L275.75,397.90 L276.50,397.90 L277.25,397.90 L278.00,397.90 L278.75,397.90 L279.50,397.90 L280.25,397.90 L281.00,397.90 L281.75,397.90 L282.50,397.90 L283.25,397.90 L284.00,397.90 L284.75,397.90 L285.50,397.90 L286.25,397.90 L287.00,397.90 L287.75,397.90 L288.50,397.90 L289.25,397.90 L290.00,397.90 L290.75,397.90 L291.50,397.90 L292.25,397.90 L293.00,397.90 L293.75,397.90 L294.50,397.90 L295.25,397.90 L296.00,397.90 L296.75,397.90 L297.50,397.90 L298.25,397.90 L299.00,397.90 L299.75,397.90 L300.50,397.90 L301.25,397.90 L302.00,397.90 L302.75,397.90 L303.50,397.90 L304.25,397.90 L305.00,397.90 L305.75,397.90 L306.50,397.90 L307.25,397.90 L308.00,397.90 L308.75,397.90 L309.50,397.90 L310.25,397.90 L311.00,397.90 L311.75,397.90 L312.50,397.90 L313.25,397.90 L314.00,397.90 L314.75,397.90 L315.50,397.90 L316.25,397.90 L317.00,397.90 L317.75,397.90 L318.50,397.90 L319.25,397.90 L320.00,397.90 L320.75,397.90 L321.50,397.90 L322.25,397.90 L323.00,397.90 L323.75,397.90 L324.50,397.90 L325.25,397.90 L326.00,397.90 L326.75,397.90 L327.50,397.90 L328.25,397.90 L329.00,397.90 L329.75,397.90 L330.50,397.90 L331.25,397.90 L332.00,397.90 L332.75,397.90 L333.50,397.90 L334.25,397.90 L335.00,397.90 L335.75,397.90 L336.50,397.90 L337.25,397.90 L338.00,397.90 L338.75,397.90 L339.50,397.90 L340.25,397.90 L341.00,397.90 L341.75,397.90 L342.50,397.90 L343.25,397.90 L344.00,397.90 L344.75,397.90 L345.50,397.90 L346.25,397.90 L347.00,397.90 L347.75,397.90 L348.50,397.90 L349.25,397.90 L350.00,397.90 L350.75,397.90 L351.50,397.90 L352.25,397.90 L353.00,397.90 L353.75,397.89 L354.50,397.89 L355.25,397.89 L356.00,397.88 L356.75,397.88 L357.50,397.87 L358.25,397.87 L359.00,397.86 L359.75,397.84 L360.50,397.83 L361.25,397.81 L362.00,397.78 L362.75,397.75 L363.50,397.71 L364.25,397.67 L365.00,397.61 L365.75,397.54 L366.50,397.45 L367.25,397.35 L368.00,397.23 L368.75,397.09 L369.50,396.92 L370.25,396.72 L371.00,396.48 L371.75,396.21 L372.50,395.90 L373.25,395.53 L374.00,395.12 L374.75,394.65 L375.50,394.12 L376.25,393.52 L377.00,392.85 L377.75,392.11 L378.50,391.29 L379.25,390.39 L380.00,389.41 L380.75,388.35 L381.50,387.21 L382.25,385.99 L383.00,384.69 L383.75,383.32 L384.50,381.89 L385.25,380.40 L386.00,378.87 L386.75,377.30 L387.50,375.71 L388.25,374.11 L389.00,372.51 L389.75,370.94 L390.50,369.42 L391.25,367.95 L392.00,366.55 L392.75,365.25 L393.50,364.06 L394.25,362.99 L395.00,362.07 L395.75,361.29 L396.50,360.68 L397.25,360.24 L398.00,359.98 L398.75,359.90 L399.50,360.00 L400.25,360.29 L401.00,360.75 L401.75,361.39 L402.50,362.18 L403.25,363.13 L404.00,364.21 L404.75,365.42 L405.50,366.73 L406.25,368.14 L407.00,369.62 L407.75,371.15 L408.50,372.72 L409.25,374.32 L410.00,375.92 L410.75,377.51 L411.50,379.07 L412.25,380.60 L413.00,382.08 L413.75,383.51 L414.50,384.87 L415.25,386.15 L416.00,387.37 L416.75,388.50 L417.50,389.55 L418.25,390.52 L419.00,391.40 L419.75,392.21 L420.50,392.95 L421.25,393.60 L422.00,394.19 L422.75,394.72 L423.50,395.18 L424.25,395.59 L425.00,395.94 L425.75,396.25 L426.50,396.52 L427.25,396.75 L428.00,396.94 L428.75,397.11 L429.50,397.25 L430.25,397.37 L431.00,397.47 L431.75,397.55 L432.50,397.62 L433.25,397.67 L434.00,397.72 L434.75,397.76 L435.50,397.79 L436.25,397.81 L437.00,397.83 L437.75,397.84 L438.50,397.86 L439.25,397.87 L440.00,397.87 L440.75,397.88 L441.50,397.89 L442.25,397.89 L443.00,397.89 L443.75,397.89 L444.50,397.90 L445.25,397.90 L446.00,397.90 L446.75,397.90 L447.50,397.90 L448.25,397.90 L449.00,397.90 L449.75,397.90 L450.50,397.90 L451.25,397.90 L452.00,397.90 L452.75,397.90 L453.50,397.90 L454.25,397.90 L455.00,397.90 L455.75,397.90 L456.50,397.90 L457.25,397.90 L458.00,397.90 L458.75,397.90 L459.50,397.90 L460.25,397.90 L461.00,397.90 L461.75,397.90 L462.50,397.90 L463.25,397.90 L464.00,397.90 L464.75,397.90 L465.50,397.90 L466.25,397.90 L467.00,397.90 L467.75,397.90 L468.50,397.90 L469.25,397.90 L470.00,397.90 L470.75,397.90 L471.50,397.90 L472.25,397.90 L473.00,397.90 L473.75,397.90 L474.50,397.90 L475.25,397.90 L476.00,397.90 L476.75,397.90 L477.50,397.90 L478.25,397.90 L479.00,397.90 L479.75,397.90 L480.50,397.90 L481.25,397.90 L482.00,397.90 L482.75,397.90 L483.50,397.90 L484.25,397.90 L485.00,397.90 L485.75,397.90 L486.50,397.90 L487.25,397.90 L488.00,397.90 L488.75,397.90 L489.50,397.90 L490.25,397.90 L491.00,397.90 L491.75,397.90 L492.50,397.90 L493.25,397.90 L494.00,397.90 L494.75,397.90 L495.50,397.90 L496.25,397.90 L497.00,397.90 L497.75,397.90 L498.50,397.90 L499.25,397.90" fill="none" stroke="#c9cbca" stroke-width="3.2" stroke-linejoin="round"/>
<path d="M215.00,397.90 L215.75,397.90 L216.50,397.90 L217.25,397.90 L218.00,397.90 L218.75,397.90 L219.50,397.90 L220.25,397.90 L221.00,397.90 L221.75,397.90 L222.50,397.90 L223.25,397.90 L224.00,397.90 L224.75,397.90 L225.50,397.90 L226.25,397.90 L227.00,397.90 L227.75,397.90 L228.50,397.90 L229.25,397.90 L230.00,397.90 L230.75,397.90 L231.50,397.90 L232.25,397.90 L233.00,397.90 L233.75,397.90 L234.50,397.90 L235.25,397.90 L236.00,397.90 L236.75,397.90 L237.50,397.90 L238.25,397.90 L239.00,397.90 L239.75,397.90 L240.50,397.90 L241.25,397.90 L242.00,397.90 L242.75,397.90 L243.50,397.90 L244.25,397.90 L245.00,397.90 L245.75,397.90 L246.50,397.90 L247.25,397.90 L248.00,397.90 L248.75,397.90 L249.50,397.90 L250.25,397.90 L251.00,397.90 L251.75,397.90 L252.50,397.90 L253.25,397.90 L254.00,397.90 L254.75,397.90 L255.50,397.90 L256.25,397.90 L257.00,397.90 L257.75,397.90 L258.50,397.90 L259.25,397.90 L260.00,397.90 L260.75,397.90 L261.50,397.90 L262.25,397.90 L263.00,397.90 L263.75,397.90 L264.50,397.90 L265.25,397.90 L266.00,397.90 L266.75,397.90 L267.50,397.90 L268.25,397.90 L269.00,397.90 L269.75,397.90 L270.50,397.90 L271.25,397.90 L272.00,397.90 L272.75,397.90 L273.50,397.90 L274.25,397.90 L275.00,397.90 L275.75,397.90 L276.50,397.90 L277.25,397.90 L278.00,397.90 L278.75,397.90 L279.50,397.90 L280.25,397.90 L281.00,397.90 L281.75,397.90 L282.50,397.90 L283.25,397.90 L284.00,397.90 L284.75,397.90 L285.50,397.90 L286.25,397.90 L287.00,397.90 L287.75,397.90 L288.50,397.90 L289.25,397.90 L290.00,397.90 L290.75,397.90 L291.50,397.90 L292.25,397.90 L293.00,397.90 L293.75,397.90 L294.50,397.90 L295.25,397.90 L296.00,397.90 L296.75,397.90 L297.50,397.90 L298.25,397.90 L299.00,397.90 L299.75,397.90 L300.50,397.90 L301.25,397.90 L302.00,397.90 L302.75,397.90 L303.50,397.90 L304.25,397.90 L305.00,397.90 L305.75,397.90 L306.50,397.90 L307.25,397.90 L308.00,397.90 L308.75,397.90 L309.50,397.90 L310.25,397.90 L311.00,397.90 L311.75,397.90 L312.50,397.90 L313.25,397.90 L314.00,397.90 L314.75,397.90 L315.50,397.90 L316.25,397.90 L317.00,397.90 L317.75,397.90 L318.50,397.90 L319.25,397.90 L320.00,397.90 L320.75,397.90 L321.50,397.90 L322.25,397.90 L323.00,397.90 L323.75,397.90 L324.50,397.90 L325.25,397.90 L326.00,397.90 L326.75,397.90 L327.50,397.90 L328.25,397.90 L329.00,397.90 L329.75,397.90 L330.50,397.90 L331.25,397.90 L332.00,397.90 L332.75,397.90 L333.50,397.90 L334.25,397.90 L335.00,397.90 L335.75,397.90 L336.50,397.90 L337.25,397.90 L338.00,397.90 L338.75,397.90 L339.50,397.90 L340.25,397.90 L341.00,397.90 L341.75,397.90 L342.50,397.90 L343.25,397.90 L344.00,397.90 L344.75,397.90 L345.50,397.90 L346.25,397.90 L347.00,397.90 L347.75,397.90 L348.50,397.90 L349.25,397.90 L350.00,397.90 L350.75,397.90 L351.50,397.90 L352.25,397.90 L353.00,397.90 L353.75,397.90 L354.50,397.90 L355.25,397.90 L356.00,397.90 L356.75,397.90 L357.50,397.90 L358.25,397.90 L359.00,397.90 L359.75,397.90 L360.50,397.90 L361.25,397.90 L362.00,397.90 L362.75,397.90 L363.50,397.90 L364.25,397.90 L365.00,397.90 L365.75,397.90 L366.50,397.90 L367.25,397.90 L368.00,397.90 L368.75,397.90 L369.50,397.90 L370.25,397.90 L371.00,397.90 L371.75,397.89 L372.50,397.89 L373.25,397.89 L374.00,397.89 L374.75,397.89 L375.50,397.89 L376.25,397.88 L377.00,397.88 L377.75,397.88 L378.50,397.87 L379.25,397.87 L380.00,397.86 L380.75,397.86 L381.50,397.85 L382.25,397.84 L383.00,397.83 L383.75,397.82 L384.50,397.81 L385.25,397.79 L386.00,397.78 L386.75,397.76 L387.50,397.74 L388.25,397.72 L389.00,397.69 L389.75,397.66 L390.50,397.63 L391.25,397.59 L392.00,397.55 L392.75,397.50 L393.50,397.45 L394.25,397.39 L395.00,397.33 L395.75,397.25 L396.50,397.18 L397.25,397.09 L398.00,397.00 L398.75,396.89 L399.50,396.78 L400.25,396.65 L401.00,396.52 L401.75,396.37 L402.50,396.21 L403.25,396.04 L404.00,395.85 L404.75,395.65 L405.50,395.44 L406.25,395.21 L407.00,394.96 L407.75,394.70 L408.50,394.42 L409.25,394.13 L410.00,393.81 L410.75,393.49 L411.50,393.14 L412.25,392.77 L413.00,392.39 L413.75,391.99 L414.50,391.58 L415.25,391.15 L416.00,390.70 L416.75,390.24 L417.50,389.76 L418.25,389.28 L419.00,388.78 L419.75,388.27 L420.50,387.75 L421.25,387.23 L422.00,386.70 L422.75,386.16 L423.50,385.63 L424.25,385.09 L425.00,384.56 L425.75,384.03 L426.50,383.51 L427.25,383.00 L428.00,382.51 L428.75,382.02 L429.50,381.55 L430.25,381.11 L431.00,380.68 L431.75,380.28 L432.50,379.90 L433.25,379.55 L434.00,379.23 L434.75,378.94 L435.50,378.68 L436.25,378.46 L437.00,378.27 L437.75,378.12 L438.50,378.01 L439.25,377.94 L440.00,377.90 L440.75,377.91 L441.50,377.95 L442.25,378.03 L443.00,378.15 L443.75,378.31 L444.50,378.50 L445.25,378.73 L446.00,378.99 L446.75,379.29 L447.50,379.62 L448.25,379.97 L449.00,380.35 L449.75,380.76 L450.50,381.19 L451.25,381.65 L452.00,382.12 L452.75,382.60 L453.50,383.11 L454.25,383.62 L455.00,384.14 L455.75,384.67 L456.50,385.20 L457.25,385.73 L458.00,386.27 L458.75,386.80 L459.50,387.33 L460.25,387.85 L461.00,388.37 L461.75,388.88 L462.50,389.37 L463.25,389.86 L464.00,390.33 L464.75,390.79 L465.50,391.23 L466.25,391.66 L467.00,392.07 L467.75,392.47 L468.50,392.85 L469.25,393.21 L470.00,393.55 L470.75,393.88 L471.50,394.19 L472.25,394.48 L473.00,394.76 L473.75,395.01 L474.50,395.26 L475.25,395.48 L476.00,395.69 L476.75,395.89 L477.50,396.08 L478.25,396.24 L479.00,396.40 L479.75,396.55 L480.50,396.68 L481.25,396.80 L482.00,396.91 L482.75,397.01 L483.50,397.11 L484.25,397.19 L485.00,397.27 L485.75,397.34 L486.50,397.40 L487.25,397.46 L488.00,397.51 L488.75,397.56 L489.50,397.60 L490.25,397.63 L491.00,397.67 L491.75,397.69 L492.50,397.72 L493.25,397.74 L494.00,397.76 L494.75,397.78 L495.50,397.80 L496.25,397.81 L497.00,397.82 L497.75,397.83 L498.50,397.84 L499.25,397.85" fill="none" stroke="#c9cbca" stroke-width="3.2" stroke-linejoin="round"/>
<path d="M103.50,397.60 L104.25,397.60 L105.00,397.60 L105.75,397.60 L106.50,397.60 L107.25,397.60 L108.00,397.60 L108.75,397.60 L109.50,397.60 L110.25,397.60 L111.00,397.60 L111.75,397.60 L112.50,397.60 L113.25,397.60 L114.00,397.60 L114.75,397.60 L115.50,397.60 L116.25,397.60 L117.00,397.60 L117.75,397.60 L118.50,397.60 L119.25,397.60 L120.00,397.60 L120.75,397.60 L121.50,397.60 L122.25,397.60 L123.00,397.60 L123.75,397.60 L124.50,397.60 L125.25,397.60 L126.00,397.60 L126.75,397.60 L127.50,397.60 L128.25,397.60 L129.00,397.60 L129.75,397.60 L130.50,397.60 L131.25,397.60 L132.00,397.60 L132.75,397.60 L133.50,397.60 L134.25,397.60 L135.00,397.60 L135.75,397.60 L136.50,397.60 L137.25,397.60 L138.00,397.60 L138.75,397.60 L139.50,397.60 L140.25,397.60 L141.00,397.60 L141.75,397.60 L142.50,397.60 L143.25,397.60 L144.00,397.60 L144.75,397.60 L145.50,397.60 L146.25,397.60 L147.00,397.60 L147.75,397.60 L148.50,397.60 L149.25,397.60 L150.00,397.60 L150.75,397.60 L151.50,397.60 L152.25,397.60 L153.00,397.60 L153.75,397.60 L154.50,397.60 L155.25,397.60 L156.00,397.60 L156.75,397.60 L157.50,397.60 L158.25,397.60 L159.00,397.60 L159.75,397.60 L160.50,397.60 L161.25,397.60 L162.00,397.60 L162.75,397.60 L163.50,397.60 L164.25,397.60 L165.00,397.60 L165.75,397.60 L166.50,397.60 L167.25,397.60 L168.00,397.60 L168.75,397.60 L169.50,397.60 L170.25,397.60 L171.00,397.60 L171.75,397.60 L172.50,397.60 L173.25,397.60 L174.00,397.60 L174.75,397.60 L175.50,397.60 L176.25,397.60 L177.00,397.60 L177.75,397.60 L178.50,397.60 L179.25,397.60 L180.00,397.60 L180.75,397.60 L181.50,397.60 L182.25,397.60 L183.00,397.60 L183.75,397.60 L184.50,397.60 L185.25,397.60 L186.00,397.60 L186.75,397.60 L187.50,397.60 L188.25,397.60 L189.00,397.60 L189.75,397.60 L190.50,397.60 L191.25,397.60 L192.00,397.60 L192.75,397.60 L193.50,397.60 L194.25,397.60 L195.00,397.60 L195.75,397.60 L196.50,397.60 L197.25,397.60 L198.00,397.60 L198.75,397.59 L199.50,397.59 L200.25,397.59 L201.00,397.59 L201.75,397.59 L202.50,397.59 L203.25,397.59 L204.00,397.58 L204.75,397.58 L205.50,397.58 L206.25,397.57 L207.00,397.57 L207.75,397.56 L208.50,397.56 L209.25,397.55 L210.00,397.54 L210.75,397.53 L211.50,397.52 L212.25,397.51 L213.00,397.49 L213.75,397.48 L214.50,397.46 L215.25,397.44 L216.00,397.41 L216.75,397.39 L217.50,397.36 L218.25,397.32 L219.00,397.28 L219.75,397.24 L220.50,397.19 L221.25,397.14 L222.00,397.08 L222.75,397.01 L223.50,396.94 L224.25,396.85 L225.00,396.76 L225.75,396.66 L226.50,396.55 L227.25,396.43 L228.00,396.29 L228.75,396.14 L229.50,395.98 L230.25,395.80 L231.00,395.61 L231.75,395.40 L232.50,395.17 L233.25,394.93 L234.00,394.66 L234.75,394.37 L235.50,394.06 L236.25,393.73 L237.00,393.37 L237.75,392.98 L238.50,392.57 L239.25,392.14 L240.00,391.67 L240.75,391.18 L241.50,390.65 L242.25,390.10 L243.00,389.52 L243.75,388.90 L244.50,388.26 L245.25,387.58 L246.00,386.87 L246.75,386.13 L247.50,385.37 L248.25,384.57 L249.00,383.74 L249.75,382.89 L250.50,382.00 L251.25,381.10 L252.00,380.17 L252.75,379.22 L253.50,378.25 L254.25,377.26 L255.00,376.25 L255.75,375.24 L256.50,374.21 L257.25,373.18 L258.00,372.14 L258.75,371.11 L259.50,370.07 L260.25,369.05 L261.00,368.03 L261.75,367.03 L262.50,366.04 L263.25,365.08 L264.00,364.14 L264.75,363.22 L265.50,362.34 L266.25,361.49 L267.00,360.68 L267.75,359.91 L268.50,359.19 L269.25,358.51 L270.00,357.87 L270.75,357.29 L271.50,356.76 L272.25,356.29 L273.00,355.87 L273.75,355.50 L274.50,355.20 L275.25,354.95 L276.00,354.75 L276.75,354.61 L277.50,354.53 L278.25,354.50 L279.00,354.52 L279.75,354.59 L280.50,354.71 L281.25,354.88 L282.00,355.09 L282.75,355.34 L283.50,355.62 L284.25,355.94 L285.00,356.29 L285.75,356.66 L286.50,357.05 L287.25,357.46 L288.00,357.88 L288.75,358.31 L289.50,358.74 L290.25,359.18 L291.00,359.60 L291.75,360.02 L292.50,360.43 L293.25,360.82 L294.00,361.19 L294.75,361.53 L295.50,361.84 L296.25,362.12 L297.00,362.37 L297.75,362.58 L298.50,362.74 L299.25,362.86 L300.00,362.94 L300.75,362.97 L301.50,362.95 L302.25,362.87 L303.00,362.75 L303.75,362.57 L304.50,362.33 L305.25,362.04 L306.00,361.69 L306.75,361.29 L307.50,360.83 L308.25,360.31 L309.00,359.74 L309.75,359.12 L310.50,358.44 L311.25,357.71 L312.00,356.92 L312.75,356.09 L313.50,355.20 L314.25,354.27 L315.00,353.29 L315.75,352.26 L316.50,351.19 L317.25,350.08 L318.00,348.93 L318.75,347.74 L319.50,346.51 L320.25,345.25 L321.00,343.96 L321.75,342.64 L322.50,341.28 L323.25,339.90 L324.00,338.49 L324.75,337.06 L325.50,335.61 L326.25,334.14 L327.00,332.65 L327.75,331.14 L328.50,329.62 L329.25,328.09 L330.00,326.55 L330.75,324.99 L331.50,323.43 L332.25,321.86 L333.00,320.29 L333.75,318.72 L334.50,317.15 L335.25,315.57 L336.00,314.00 L336.75,312.44 L337.50,310.88 L338.25,309.32 L339.00,307.78 L339.75,306.25 L340.50,304.73 L341.25,303.23 L342.00,301.75 L342.75,300.28 L343.50,298.83 L344.25,297.41 L345.00,296.01 L345.75,294.64 L346.50,293.30 L347.25,291.98 L348.00,290.70 L348.75,289.46 L349.50,288.25 L350.25,287.08 L351.00,285.96 L351.75,284.87 L352.50,283.84 L353.25,282.85 L354.00,281.91 L354.75,281.02 L355.50,280.18 L356.25,279.41 L357.00,278.69 L357.75,278.03 L358.50,277.43 L359.25,276.89 L360.00,276.42 L360.75,276.01 L361.50,275.67 L362.25,275.40 L363.00,275.20 L363.75,275.06 L364.50,274.99 L365.25,274.99 L366.00,275.05 L366.75,275.18 L367.50,275.37 L368.25,275.62 L369.00,275.93 L369.75,276.29 L370.50,276.71 L371.25,277.17 L372.00,277.67 L372.75,278.22 L373.50,278.80 L374.25,279.40 L375.00,280.03 L375.75,280.67 L376.50,281.33 L377.25,282.00 L378.00,282.67 L378.75,283.33 L379.50,283.99 L380.25,284.64 L381.00,285.29 L381.75,285.91 L382.50,286.53 L383.25,287.14 L384.00,287.74 L384.75,288.33 L385.50,288.92 L386.25,289.51 L387.00,290.12 L387.75,290.75 L388.50,291.40 L389.25,292.10 L390.00,292.84 L390.75,293.65 L391.50,294.52 L392.25,295.47 L393.00,296.51 L393.75,297.66 L394.50,298.90 L395.25,300.26 L396.00,301.74 L396.75,303.35 L397.50,305.07 L398.25,306.92 L399.00,308.89 L399.75,310.97 L400.50,313.16 L401.25,315.46 L402.00,317.84 L402.75,320.31 L403.50,322.84 L404.25,325.42 L405.00,328.04 L405.75,330.68 L406.50,333.32 L407.25,335.95 L408.00,338.56 L408.75,341.12 L409.50,343.63 L410.25,346.07 L411.00,348.42 L411.75,350.69 L412.50,352.85 L413.25,354.90 L414.00,356.84 L414.75,358.66 L415.50,360.36 L416.25,361.94 L417.00,363.39 L417.75,364.73 L418.50,365.94 L419.25,367.04 L420.00,368.03 L420.75,368.91 L421.50,369.70 L422.25,370.40 L423.00,371.00 L423.75,371.54 L424.50,372.00 L425.25,372.39 L426.00,372.74 L426.75,373.03 L427.50,373.28 L428.25,373.49 L429.00,373.68 L429.75,373.84 L430.50,373.99 L431.25,374.12 L432.00,374.25 L432.75,374.37 L433.50,374.49 L434.25,374.62 L435.00,374.75 L435.75,374.90 L436.50,375.05 L437.25,375.23 L438.00,375.42 L438.75,375.63 L439.50,375.85 L440.25,376.10 L441.00,376.37 L441.75,376.66 L442.50,376.97 L443.25,377.31 L444.00,377.66 L444.75,378.03 L445.50,378.43 L446.25,378.84 L447.00,379.27 L447.75,379.71 L448.50,380.17 L449.25,380.65 L450.00,381.13 L450.75,381.63 L451.50,382.13 L452.25,382.65 L453.00,383.16 L453.75,383.69 L454.50,384.21 L455.25,384.74 L456.00,385.26 L456.75,385.78 L457.50,386.30 L458.25,386.81 L459.00,387.32 L459.75,387.82 L460.50,388.31 L461.25,388.79 L462.00,389.26 L462.75,389.71 L463.50,390.16 L464.25,390.59 L465.00,391.00 L465.75,391.41 L466.50,391.79 L467.25,392.17 L468.00,392.52 L468.75,392.86 L469.50,393.19 L470.25,393.50 L471.00,393.79 L471.75,394.07 L472.50,394.34 L473.25,394.59 L474.00,394.82 L474.75,395.04 L475.50,395.25 L476.25,395.44 L477.00,395.63 L477.75,395.79 L478.50,395.95 L479.25,396.10 L480.00,396.23 L480.75,396.36 L481.50,396.47 L482.25,396.58 L483.00,396.68 L483.75,396.77 L484.50,396.85 L485.25,396.93 L486.00,397.00 L486.75,397.06 L487.50,397.12 L488.25,397.17 L489.00,397.21 L489.75,397.26 L490.50,397.30 L491.25,397.33 L492.00,397.36 L492.75,397.39 L493.50,397.41 L494.25,397.44 L495.00,397.46 L495.75,397.47 L496.50,397.49 L497.25,397.50 L498.00,397.51 L498.75,397.53 L499.50,397.54 L500.25,397.54 L501.00,397.55 L501.75,397.56 L502.50,397.56 L503.25,397.57 L504.00,397.57 L504.75,397.58 L505.50,397.58 L506.25,397.58 L507.00,397.59 L507.75,397.59 L508.50,397.59 L509.25,397.59 L510.00,397.59 L510.75,397.59 L511.50,397.59 L512.25,397.60 L513.00,397.60 L513.75,397.60 L514.50,397.60 L515.25,397.60 L516.00,397.60 L516.75,397.60 L517.50,397.60 L518.25,397.60 L519.00,397.60 L519.75,397.60 L520.50,397.60 L521.25,397.60 L522.00,397.60 L522.75,397.60 L523.50,397.60 L524.25,397.60 L525.00,397.60 L525.75,397.60 L526.50,397.60 L527.25,397.60 L528.00,397.60 L528.75,397.60 L529.50,397.60 L530.25,397.60 L531.00,397.60 L531.75,397.60 L532.50,397.60 L533.25,397.60 L534.00,397.60 L534.75,397.60 L535.50,397.60 L536.25,397.60 L537.00,397.60 L537.75,397.60 L538.50,397.60 L539.25,397.60 L540.00,397.60 L540.75,397.60 L541.50,397.60 L542.25,397.60 L543.00,397.60 L543.75,397.60 L544.50,397.60 L545.25,397.60 L546.00,397.60 L546.75,397.60 L547.50,397.60 L548.25,397.60 L549.00,397.60 L549.75,397.60 L550.50,397.60 L551.25,397.60 L552.00,397.60 L552.75,397.60 L553.50,397.60 L554.25,397.60 L555.00,397.60 L555.75,397.60 L556.50,397.60 L557.25,397.60 L558.00,397.60 L558.75,397.60 L559.50,397.60 L560.25,397.60 L561.00,397.60 L561.75,397.60 L562.50,397.60 L563.25,397.60 L564.00,397.60 L564.75,397.60 L565.50,397.60 L566.25,397.60 L567.00,397.60 L567.75,397.60 L568.50,397.60 L569.25,397.60 L570.00,397.60 L570.75,397.60 L571.50,397.60 L572.25,397.60 L573.00,397.60 L573.75,397.60 L574.50,397.60 L575.25,397.60 L576.00,397.60 L576.75,397.60 L577.50,397.60 L578.25,397.60 L579.00,397.60 L579.75,397.60 L580.50,397.60 L581.25,397.60 L582.00,397.60 L582.75,397.60 L583.50,397.60 L584.25,397.60 L585.00,397.60 L585.75,397.60 L586.50,397.60 L587.25,397.60 L588.00,397.60 L588.75,397.60 L589.50,397.60 L590.25,397.60 L591.00,397.60 L591.75,397.60 L592.50,397.60 L593.25,397.60 L594.00,397.60 L594.75,397.60 L595.50,397.60 L596.25,397.60 L597.00,397.60 L597.75,397.60 L598.50,397.60 L599.25,397.60 L600.00,397.60 L600.75,397.60 L601.50,397.60 L602.25,397.60 L603.00,397.60 L603.75,397.60 L604.50,397.60 L605.25,397.60 L606.00,397.60 L606.75,397.60 L607.50,397.60 L608.25,397.60 L609.00,397.60 L609.75,397.60 L610.50,397.60 L611.25,397.60 L612.00,397.60 L612.75,397.60 L613.50,397.60 L614.25,397.60 L615.00,397.60 L615.75,397.60 L616.50,397.60 L617.25,397.60 L618.00,397.60 L618.75,397.60 L619.50,397.60 L620.25,397.60 L621.00,397.60 L621.75,397.60 L622.50,397.60 L623.25,397.60 L624.00,397.60 L624.75,397.60 L625.50,397.60 L626.25,397.60 L627.00,397.60 L627.75,397.60 L628.50,397.60 L629.25,397.60 L630.00,397.60 L630.75,397.60 L631.50,397.60 L632.25,397.60 L633.00,397.60 L633.75,397.60 L634.50,397.60 L635.25,397.60 L636.00,397.60" fill="none" stroke="#555555" stroke-width="3.9" stroke-linejoin="round"/>
<line x1="364.80" y1="284.70" x2="364.80" y2="392.40" stroke="#4a9fd4" stroke-width="1.6" />
<path d="M364.80,279.50 L361.70,286.00 L364.80,284.18 L367.90,286.00Z" fill="#4a9fd4"/>
<path d="M364.80,397.60 L361.70,391.10 L364.80,392.92 L367.90,391.10Z" fill="#4a9fd4"/>
<line x1="277.60" y1="364.70" x2="277.60" y2="392.40" stroke="#4a9fd4" stroke-width="1.6" />
<path d="M277.60,359.50 L274.50,366.00 L277.60,364.18 L280.70,366.00Z" fill="#4a9fd4"/>
<path d="M277.60,397.60 L274.50,391.10 L277.60,392.92 L280.70,391.10Z" fill="#4a9fd4"/>
<line x1="406.60" y1="343.70" x2="406.60" y2="392.40" stroke="#7b3ab3" stroke-width="1.9" />
<path d="M406.60,338.50 L403.40,345.00 L406.60,343.18 L409.80,345.00Z" fill="#7b3ab3"/>
<path d="M406.60,397.60 L403.40,391.10 L406.60,392.92 L409.80,391.10Z" fill="#7b3ab3"/>
<line x1="476.90" y1="281.00" x2="476.90" y2="391.60" stroke="#151515" stroke-width="2.3" />
<path d="M476.90,275.00 L473.40,282.50 L476.90,280.40 L480.40,282.50Z" fill="#151515"/>
<path d="M476.90,397.60 L473.40,390.10 L476.90,392.20 L480.40,390.10Z" fill="#151515"/>
<line x1="370.00" y1="274.90" x2="475.50" y2="274.90" stroke="#151515" stroke-width="1.7" stroke-dasharray="5 2.6"/>
<circle cx="119.80" cy="397.50" r="5.4" fill="#7b3ab3"/>
<circle cx="159.70" cy="397.50" r="5.4" fill="#7b3ab3"/>
<circle cx="257.60" cy="372.70" r="5.4" fill="#7b3ab3"/>
<circle cx="288.20" cy="357.80" r="5.4" fill="#7b3ab3"/>
<circle cx="334.60" cy="315.80" r="5.4" fill="#7b3ab3"/>
<circle cx="406.60" cy="333.20" r="5.4" fill="#7b3ab3"/>
<circle cx="431.60" cy="375.40" r="5.4" fill="#7b3ab3"/>
<circle cx="455.30" cy="384.60" r="5.4" fill="#7b3ab3"/>
<circle cx="506.00" cy="397.50" r="5.4" fill="#7b3ab3"/>
<circle cx="573.00" cy="397.50" r="5.4" fill="#7b3ab3"/>
<g transform="translate(140.20,397.40) rotate(45)" fill="#4a9fd4"><rect x="-5.17" y="-2.25" width="10.35" height="4.5"/><rect x="-2.25" y="-5.17" width="4.5" height="10.35"/></g>
<g transform="translate(277.70,354.40) rotate(45)" fill="#4a9fd4"><rect x="-5.17" y="-2.25" width="10.35" height="4.5"/><rect x="-2.25" y="-5.17" width="4.5" height="10.35"/></g>
<g transform="translate(364.80,274.90) rotate(45)" fill="#4a9fd4"><rect x="-5.17" y="-2.25" width="10.35" height="4.5"/><rect x="-2.25" y="-5.17" width="4.5" height="10.35"/></g>
<g transform="translate(437.10,375.50) rotate(45)" fill="#4a9fd4"><rect x="-5.17" y="-2.25" width="10.35" height="4.5"/><rect x="-2.25" y="-5.17" width="4.5" height="10.35"/></g>
<g transform="translate(524.90,397.40) rotate(45)" fill="#4a9fd4"><rect x="-5.17" y="-2.25" width="10.35" height="4.5"/><rect x="-2.25" y="-5.17" width="4.5" height="10.35"/></g>
<g transform="translate(524.70,268.50) rotate(45)" fill="#4a9fd4"><rect x="-5.53" y="-2.25" width="11.06" height="4.5"/><rect x="-2.25" y="-5.53" width="4.5" height="11.06"/></g>
<circle cx="525.40" cy="292.40" r="5.5" fill="#7b3ab3"/>
<line x1="517.30" y1="318.30" x2="530.70" y2="318.30" stroke="#c9cbca" stroke-width="4" />
<line x1="517.30" y1="342.50" x2="530.70" y2="342.50" stroke="#555555" stroke-width="4" />
<text transform="translate(538.6 273.9) scale(1 1)" font-size="19.4" fill="#151515" text-anchor="start" font-family='"Liberation Sans", sans-serif' >Peaks</text>
<text transform="translate(538.6 299.0) scale(1 1)" font-size="19.4" fill="#151515" text-anchor="start" font-family='"Liberation Sans", sans-serif' >Inflections</text>
<text transform="translate(538.6 324.3) scale(1 1)" font-size="19.4" fill="#151515" text-anchor="start" font-family='"Liberation Sans", sans-serif' >Fitted Gaussians</text>
<text transform="translate(538.6 349.5) scale(1 1)" font-size="19.4" fill="#151515" text-anchor="start" font-family='"Liberation Sans", sans-serif' >Final model</text>
<text transform="translate(122.8 282) scale(1 1)" font-size="17" fill="#151515" text-anchor="start" font-family='"Liberation Sans", sans-serif' stroke="#151515" stroke-width="0.15">I</text>
<text transform="translate(128 288.2) scale(0.98 1)" font-size="10.3" fill="#151515" text-anchor="start" font-family='"Liberation Sans", sans-serif' stroke="#151515" stroke-width="0.25">peak</text>
<text transform="translate(153.0 283) scale(1.04 1)" font-size="18" fill="#151515" text-anchor="start" font-family='"Liberation Sans", sans-serif' >=</text>
<line x1="169.30" y1="277.30" x2="231.90" y2="277.30" stroke="#151515" stroke-width="1.1" />
<text transform="translate(173.2 272.7) scale(1.07 1)" font-size="32.6" fill="#1c1c1c" text-anchor="start" font-family='"Liberation Serif", "DejaVu Serif", serif' >Σ</text>
<text x="195.2" y="267.6" font-size="17.1" fill="#4a9fd4" stroke="#4a9fd4" stroke-width="0.25" font-family='"Liberation Sans", sans-serif'>p(x</text>
<g transform="translate(221.15,271.30) rotate(45)" fill="#4a9fd4"><rect x="-2.03" y="-0.80" width="4.06" height="1.6"/><rect x="-0.80" y="-2.03" width="1.6" height="4.06"/></g>
<text x="223.8519" y="267.6" font-size="17.1" fill="#4a9fd4" stroke="#4a9fd4" stroke-width="0.25" font-family='"Liberation Sans", sans-serif'>)</text>
<text x="176.6" y="301" font-size="16.6" fill="#151515" stroke="#151515" stroke-width="0.2" font-family='"Liberation Sans", sans-serif'>p(x<tspan font-size="7.2" dy="3.1" stroke-width="0.3">max</tspan><tspan dy="-3.1">)</tspan></text>
<text transform="translate(122.8 351) scale(1 1)" font-size="17" fill="#151515" text-anchor="start" font-family='"Liberation Sans", sans-serif' stroke="#151515" stroke-width="0.15">I</text>
<text transform="translate(128 357.2) scale(0.98 1)" font-size="10.3" fill="#151515" text-anchor="start" font-family='"Liberation Sans", sans-serif' stroke="#151515" stroke-width="0.25">inf</text>
<text transform="translate(151.0 352) scale(1.04 1)" font-size="18" fill="#151515" text-anchor="start" font-family='"Liberation Sans", sans-serif' >=</text>
<line x1="167.20" y1="346.30" x2="229.80" y2="346.30" stroke="#151515" stroke-width="1.1" />
<text transform="translate(171.2 341.7) scale(1.07 1)" font-size="32.6" fill="#1c1c1c" text-anchor="start" font-family='"Liberation Serif", "DejaVu Serif", serif' >Σ</text>
<text x="193.2" y="337" font-size="17.1" fill="#7b3ab3" stroke="#7b3ab3" stroke-width="0.25" font-family='"Liberation Sans", sans-serif'>p(x</text>
<circle cx="219.25" cy="340.30" r="2.0" fill="#7b3ab3"/>
<text x="221.8519" y="337" font-size="17.1" fill="#7b3ab3" stroke="#7b3ab3" stroke-width="0.25" font-family='"Liberation Sans", sans-serif'>)</text>
<text x="174.6" y="370.2" font-size="16.6" fill="#151515" stroke="#151515" stroke-width="0.2" font-family='"Liberation Sans", sans-serif'>p(x<tspan font-size="7.2" dy="3.1" stroke-width="0.3">max</tspan><tspan dy="-3.1">)</tspan></text>
<text x="315.6" y="277.8" font-size="17.1" fill="#4a9fd4" stroke="#4a9fd4" stroke-width="0.25" font-family='"Liberation Sans", sans-serif'>p(x</text>
<g transform="translate(341.55,281.50) rotate(45)" fill="#4a9fd4"><rect x="-2.03" y="-0.80" width="4.06" height="1.6"/><rect x="-0.80" y="-2.03" width="1.6" height="4.06"/></g>
<text x="344.2519" y="277.8" font-size="17.1" fill="#4a9fd4" stroke="#4a9fd4" stroke-width="0.25" font-family='"Liberation Sans", sans-serif'>)</text>
<text x="434.0" y="295.9" font-size="16.6" fill="#151515" stroke="#151515" stroke-width="0.2" font-family='"Liberation Sans", sans-serif'>p(x<tspan font-size="6.5" dy="3.1" stroke-width="0.3">max</tspan><tspan dy="-3.1">)</tspan></text>
<text x="414.8" y="341.1" font-size="17.1" fill="#7b3ab3" stroke="#7b3ab3" stroke-width="0.25" font-family='"Liberation Sans", sans-serif'>p(x</text>
<circle cx="440.85" cy="344.40" r="2.0" fill="#7b3ab3"/>
<text x="443.45189999999997" y="341.1" font-size="17.1" fill="#7b3ab3" stroke="#7b3ab3" stroke-width="0.25" font-family='"Liberation Sans", sans-serif'>)</text>
<text x="282.6" y="384" font-size="17.1" stroke="#4a9fd4" stroke-width="0.25" fill="#4a9fd4" font-family='"Liberation Sans", sans-serif'>p(x</text>
<text x="311.2" y="384" font-size="17.1" stroke="#4a9fd4" stroke-width="0.25" fill="#4a9fd4" font-family='"Liberation Sans", sans-serif'>)</text>
<g transform="translate(318.20,386.00) rotate(45)" fill="#4a9fd4"><rect x="-2.03" y="-0.80" width="4.06" height="1.6"/><rect x="-0.80" y="-2.03" width="1.6" height="4.06"/></g>
<line x1="103.50" y1="475.50" x2="103.50" y2="610.30" stroke="#444444" stroke-width="0.65" />
<line x1="103.50" y1="584.92" x2="108.50" y2="584.92" stroke="#444444" stroke-width="0.65" />
<line x1="103.50" y1="558.84" x2="108.50" y2="558.84" stroke="#444444" stroke-width="0.65" />
<line x1="103.50" y1="532.76" x2="108.50" y2="532.76" stroke="#444444" stroke-width="0.65" />
<line x1="103.50" y1="506.68" x2="108.50" y2="506.68" stroke="#444444" stroke-width="0.65" />
<line x1="103.50" y1="480.60" x2="108.50" y2="480.60" stroke="#444444" stroke-width="0.65" />
<text transform="translate(96.4 484.6) scale(1.0 1)" font-size="24.5" fill="#151515" text-anchor="end" font-family='"Liberation Sans", sans-serif' >0.5</text>
<text transform="translate(96.4 536.8) scale(1.0 1)" font-size="24.5" fill="#151515" text-anchor="end" font-family='"Liberation Sans", sans-serif' >0.3</text>
<text transform="translate(96.4 589.0) scale(1.0 1)" font-size="24.5" fill="#151515" text-anchor="end" font-family='"Liberation Sans", sans-serif' >0.1</text>
<text transform="translate(46.9,543.7) rotate(-90)" font-size="24.9" fill="#151515" text-anchor="middle" font-family='"Liberation Sans", sans-serif'>Probability</text>
<line x1="108.10" y1="610.30" x2="108.10" y2="604.80" stroke="#444444" stroke-width="0.65" />
<text transform="translate(108.00 636.0) scale(1.0 1)" font-size="24.1" fill="#151515" text-anchor="middle" font-family='"Liberation Sans", sans-serif' >−5</text>
<line x1="157.60" y1="610.30" x2="157.60" y2="604.80" stroke="#444444" stroke-width="0.65" />
<text transform="translate(157.50 636.0) scale(1.0 1)" font-size="24.1" fill="#151515" text-anchor="middle" font-family='"Liberation Sans", sans-serif' >−4</text>
<line x1="207.10" y1="610.30" x2="207.10" y2="604.80" stroke="#444444" stroke-width="0.65" />
<text transform="translate(207.00 636.0) scale(1.0 1)" font-size="24.1" fill="#151515" text-anchor="middle" font-family='"Liberation Sans", sans-serif' >−3</text>
<line x1="256.60" y1="610.30" x2="256.60" y2="604.80" stroke="#444444" stroke-width="0.65" />
<text transform="translate(256.50 636.0) scale(1.0 1)" font-size="24.1" fill="#151515" text-anchor="middle" font-family='"Liberation Sans", sans-serif' >−2</text>
<line x1="306.10" y1="610.30" x2="306.10" y2="604.80" stroke="#444444" stroke-width="0.65" />
<text transform="translate(306.00 636.0) scale(1.0 1)" font-size="24.1" fill="#151515" text-anchor="middle" font-family='"Liberation Sans", sans-serif' >−1</text>
<line x1="355.60" y1="610.30" x2="355.60" y2="604.80" stroke="#444444" stroke-width="0.65" />
<text transform="translate(357.00 636.0) scale(1.0 1)" font-size="24.1" fill="#151515" text-anchor="middle" font-family='"Liberation Sans", sans-serif' >0</text>
<line x1="405.10" y1="610.30" x2="405.10" y2="604.80" stroke="#444444" stroke-width="0.65" />
<text transform="translate(406.50 636.0) scale(1.0 1)" font-size="24.1" fill="#151515" text-anchor="middle" font-family='"Liberation Sans", sans-serif' >1</text>
<line x1="454.60" y1="610.30" x2="454.60" y2="604.80" stroke="#444444" stroke-width="0.65" />
<text transform="translate(456.00 636.0) scale(1.0 1)" font-size="24.1" fill="#151515" text-anchor="middle" font-family='"Liberation Sans", sans-serif' >2</text>
<line x1="504.10" y1="610.30" x2="504.10" y2="604.80" stroke="#444444" stroke-width="0.65" />
<text transform="translate(505.50 636.0) scale(1.0 1)" font-size="24.1" fill="#151515" text-anchor="middle" font-family='"Liberation Sans", sans-serif' >3</text>
<line x1="553.60" y1="610.30" x2="553.60" y2="604.80" stroke="#444444" stroke-width="0.65" />
<text transform="translate(555.00 636.0) scale(1.0 1)" font-size="24.1" fill="#151515" text-anchor="middle" font-family='"Liberation Sans", sans-serif' >4</text>
<line x1="603.10" y1="610.30" x2="603.10" y2="604.80" stroke="#444444" stroke-width="0.65" />
<text transform="translate(604.50 636.0) scale(1.0 1)" font-size="24.1" fill="#151515" text-anchor="middle" font-family='"Liberation Sans", sans-serif' >5</text>
<text transform="translate(294.4 679.1) scale(1 1)" font-size="24.85" fill="#151515" text-anchor="start" font-family='"Liberation Sans", sans-serif' >Feature value</text>
<path d="M215.00,610.11 L215.75,610.08 L216.50,610.05 L217.25,610.02 L218.00,609.98 L218.75,609.94 L219.50,609.89 L220.25,609.84 L221.00,609.78 L221.75,609.72 L222.50,609.65 L223.25,609.57 L224.00,609.48 L224.75,609.39 L225.50,609.28 L226.25,609.16 L227.00,609.04 L227.75,608.90 L228.50,608.74 L229.25,608.58 L230.00,608.40 L230.75,608.20 L231.50,607.99 L232.25,607.76 L233.00,607.51 L233.75,607.24 L234.50,606.96 L235.25,606.65 L236.00,606.32 L236.75,605.97 L237.50,605.59 L238.25,605.19 L239.00,604.76 L239.75,604.31 L240.50,603.83 L241.25,603.32 L242.00,602.79 L242.75,602.23 L243.50,601.64 L244.25,601.02 L245.00,600.38 L245.75,599.71 L246.50,599.01 L247.25,598.28 L248.00,597.53 L248.75,596.75 L249.50,595.95 L250.25,595.13 L251.00,594.29 L251.75,593.42 L252.50,592.54 L253.25,591.64 L254.00,590.73 L254.75,589.81 L255.50,588.88 L256.25,587.95 L257.00,587.01 L257.75,586.07 L258.50,585.14 L259.25,584.21 L260.00,583.29 L260.75,582.38 L261.50,581.49 L262.25,580.62 L263.00,579.77 L263.75,578.95 L264.50,578.16 L265.25,577.41 L266.00,576.69 L266.75,576.01 L267.50,575.37 L268.25,574.78 L269.00,574.24 L269.75,573.75 L270.50,573.32 L271.25,572.94 L272.00,572.61 L272.75,572.35 L273.50,572.14 L274.25,572.00 L275.00,571.92 L275.75,571.90 L276.50,571.97 L277.25,572.15 L278.00,572.43 L278.75,572.81 L279.50,573.28 L280.25,573.85 L281.00,574.51 L281.75,575.25 L282.50,576.06 L283.25,576.95 L284.00,577.91 L284.75,578.92 L285.50,579.98 L286.25,581.09 L287.00,582.23 L287.75,583.40 L288.50,584.59 L289.25,585.80 L290.00,587.01 L290.75,588.22 L291.50,589.43 L292.25,590.62 L293.00,591.80 L293.75,592.95 L294.50,594.07 L295.25,595.16 L296.00,596.22 L296.75,597.24 L297.50,598.22 L298.25,599.15 L299.00,600.05 L299.75,600.89 L300.50,601.69 L301.25,602.44 L302.00,603.15 L302.75,603.81 L303.50,604.42 L304.25,604.99 L305.00,605.52 L305.75,606.01 L306.50,606.46 L307.25,606.87 L308.00,607.24 L308.75,607.59 L309.50,607.90 L310.25,608.18 L311.00,608.43 L311.75,608.66 L312.50,608.86 L313.25,609.04 L314.00,609.20 L314.75,609.35 L315.50,609.47 L316.25,609.59 L317.00,609.68 L317.75,609.77 L318.50,609.85 L319.25,609.91 L320.00,609.97 L320.75,610.02 L321.50,610.06 L322.25,610.10 L323.00,610.13 L323.75,610.16 L324.50,610.18 L325.25,610.20 L326.00,610.22 L326.75,610.23 L327.50,610.24 L328.25,610.25 L329.00,610.26 L329.75,610.27 L330.50,610.27 L331.25,610.28 L332.00,610.28 L332.75,610.29 L333.50,610.29 L334.25,610.29 L335.00,610.29 L335.75,610.29 L336.50,610.29 L337.25,610.30 L338.00,610.30 L338.75,610.30 L339.50,610.30 L340.25,610.30 L341.00,610.30 L341.75,610.30 L342.50,610.30 L343.25,610.30 L344.00,610.30 L344.75,610.30 L345.50,610.30 L346.25,610.30 L347.00,610.30 L347.75,610.30 L348.50,610.30 L349.25,610.30 L350.00,610.30 L350.75,610.30 L351.50,610.30 L352.25,610.30 L353.00,610.30 L353.75,610.30 L354.50,610.30 L355.25,610.30 L356.00,610.30 L356.75,610.30 L357.50,610.30 L358.25,610.30 L359.00,610.30 L359.75,610.30 L360.50,610.30 L361.25,610.30 L362.00,610.30 L362.75,610.30 L363.50,610.30 L364.25,610.30 L365.00,610.30 L365.75,610.30 L366.50,610.30 L367.25,610.30 L368.00,610.30 L368.75,610.30 L369.50,610.30 L370.25,610.30 L371.00,610.30 L371.75,610.30 L372.50,610.30 L373.25,610.30 L374.00,610.30 L374.75,610.30 L375.50,610.30 L376.25,610.30 L377.00,610.30 L377.75,610.30 L378.50,610.30 L379.25,610.30 L380.00,610.30 L380.75,610.30 L381.50,610.30 L382.25,610.30 L383.00,610.30 L383.75,610.30 L384.50,610.30 L385.25,610.30 L386.00,610.30 L386.75,610.30 L387.50,610.30 L388.25,610.30 L389.00,610.30 L389.75,610.30 L390.50,610.30 L391.25,610.30 L392.00,610.30 L392.75,610.30 L393.50,610.30 L394.25,610.30 L395.00,610.30 L395.75,610.30 L396.50,610.30 L397.25,610.30 L398.00,610.30 L398.75,610.30 L399.50,610.30 L400.25,610.30 L401.00,610.30 L401.75,610.30 L402.50,610.30 L403.25,610.30 L404.00,610.30 L404.75,610.30 L405.50,610.30 L406.25,610.30 L407.00,610.30 L407.75,610.30 L408.50,610.30 L409.25,610.30 L410.00,610.30 L410.75,610.30 L411.50,610.30 L412.25,610.30 L413.00,610.30 L413.75,610.30 L414.50,610.30 L415.25,610.30 L416.00,610.30 L416.75,610.30 L417.50,610.30 L418.25,610.30 L419.00,610.30 L419.75,610.30 L420.50,610.30 L421.25,610.30 L422.00,610.30 L422.75,610.30 L423.50,610.30 L424.25,610.30 L425.00,610.30 L425.75,610.30 L426.50,610.30 L427.25,610.30 L428.00,610.30 L428.75,610.30 L429.50,610.30 L430.25,610.30 L431.00,610.30 L431.75,610.30 L432.50,610.30 L433.25,610.30 L434.00,610.30 L434.75,610.30 L435.50,610.30 L436.25,610.30 L437.00,610.30 L437.75,610.30 L438.50,610.30 L439.25,610.30 L440.00,610.30 L440.75,610.30 L441.50,610.30 L442.25,610.30 L443.00,610.30 L443.75,610.30 L444.50,610.30 L445.25,610.30 L446.00,610.30 L446.75,610.30 L447.50,610.30 L448.25,610.30 L449.00,610.30 L449.75,610.30 L450.50,610.30 L451.25,610.30 L452.00,610.30 L452.75,610.30 L453.50,610.30 L454.25,610.30 L455.00,610.30 L455.75,610.30 L456.50,610.30 L457.25,610.30 L458.00,610.30 L458.75,610.30 L459.50,610.30 L460.25,610.30 L461.00,610.30 L461.75,610.30 L462.50,610.30 L463.25,610.30 L464.00,610.30 L464.75,610.30 L465.50,610.30 L466.25,610.30 L467.00,610.30 L467.75,610.30 L468.50,610.30 L469.25,610.30 L470.00,610.30 L470.75,610.30 L471.50,610.30 L472.25,610.30 L473.00,610.30 L473.75,610.30 L474.50,610.30 L475.25,610.30 L476.00,610.30 L476.75,610.30 L477.50,610.30 L478.25,610.30 L479.00,610.30 L479.75,610.30 L480.50,610.30 L481.25,610.30 L482.00,610.30 L482.75,610.30 L483.50,610.30 L484.25,610.30 L485.00,610.30 L485.75,610.30 L486.50,610.30 L487.25,610.30 L488.00,610.30 L488.75,610.30 L489.50,610.30 L490.25,610.30 L491.00,610.30 L491.75,610.30 L492.50,610.30 L493.25,610.30 L494.00,610.30 L494.75,610.30 L495.50,610.30 L496.25,610.30 L497.00,610.30 L497.75,610.30 L498.50,610.30 L499.25,610.30" fill="none" stroke="#c9cbca" stroke-width="3"/>
<path d="M215.00,610.30 L215.75,610.30 L216.50,610.30 L217.25,610.30 L218.00,610.30 L218.75,610.30 L219.50,610.30 L220.25,610.30 L221.00,610.30 L221.75,610.30 L222.50,610.30 L223.25,610.30 L224.00,610.30 L224.75,610.30 L225.50,610.30 L226.25,610.30 L227.00,610.30 L227.75,610.30 L228.50,610.30 L229.25,610.30 L230.00,610.30 L230.75,610.30 L231.50,610.30 L232.25,610.30 L233.00,610.30 L233.75,610.30 L234.50,610.30 L235.25,610.30 L236.00,610.30 L236.75,610.30 L237.50,610.30 L238.25,610.30 L239.00,610.30 L239.75,610.30 L240.50,610.30 L241.25,610.30 L242.00,610.30 L242.75,610.30 L243.50,610.30 L244.25,610.30 L245.00,610.30 L245.75,610.30 L246.50,610.30 L247.25,610.30 L248.00,610.30 L248.75,610.30 L249.50,610.30 L250.25,610.30 L251.00,610.30 L251.75,610.30 L252.50,610.30 L253.25,610.30 L254.00,610.30 L254.75,610.30 L255.50,610.30 L256.25,610.30 L257.00,610.30 L257.75,610.30 L258.50,610.30 L259.25,610.30 L260.00,610.30 L260.75,610.30 L261.50,610.30 L262.25,610.30 L263.00,610.30 L263.75,610.30 L264.50,610.30 L265.25,610.30 L266.00,610.30 L266.75,610.30 L267.50,610.30 L268.25,610.30 L269.00,610.30 L269.75,610.30 L270.50,610.30 L271.25,610.30 L272.00,610.30 L272.75,610.30 L273.50,610.30 L274.25,610.30 L275.00,610.30 L275.75,610.30 L276.50,610.30 L277.25,610.30 L278.00,610.30 L278.75,610.30 L279.50,610.30 L280.25,610.30 L281.00,610.30 L281.75,610.30 L282.50,610.30 L283.25,610.30 L284.00,610.30 L284.75,610.30 L285.50,610.29 L286.25,610.29 L287.00,610.29 L287.75,610.29 L288.50,610.29 L289.25,610.29 L290.00,610.29 L290.75,610.28 L291.50,610.28 L292.25,610.28 L293.00,610.28 L293.75,610.27 L294.50,610.27 L295.25,610.26 L296.00,610.26 L296.75,610.25 L297.50,610.25 L298.25,610.24 L299.00,610.23 L299.75,610.22 L300.50,610.21 L301.25,610.20 L302.00,610.18 L302.75,610.17 L303.50,610.15 L304.25,610.13 L305.00,610.11 L305.75,610.08 L306.50,610.06 L307.25,610.03 L308.00,610.00 L308.75,609.96 L309.50,609.92 L310.25,609.87 L311.00,609.82 L311.75,609.77 L312.50,609.71 L313.25,609.65 L314.00,609.57 L314.75,609.50 L315.50,609.41 L316.25,609.32 L317.00,609.21 L317.75,609.10 L318.50,608.98 L319.25,608.85 L320.00,608.71 L320.75,608.55 L321.50,608.38 L322.25,608.20 L323.00,608.01 L323.75,607.80 L324.50,607.57 L325.25,607.33 L326.00,607.07 L326.75,606.80 L327.50,606.50 L328.25,606.19 L329.00,605.85 L329.75,605.49 L330.50,605.11 L331.25,604.71 L332.00,604.28 L332.75,603.83 L333.50,603.36 L334.25,602.86 L335.00,602.33 L335.75,601.78 L336.50,601.20 L337.25,600.60 L338.00,599.96 L338.75,599.30 L339.50,598.61 L340.25,597.90 L341.00,597.16 L341.75,596.39 L342.50,595.59 L343.25,594.77 L344.00,593.93 L344.75,593.06 L345.50,592.16 L346.25,591.25 L347.00,590.32 L347.75,589.36 L348.50,588.39 L349.25,587.40 L350.00,586.40 L350.75,585.39 L351.50,584.36 L352.25,583.33 L353.00,582.30 L353.75,581.26 L354.50,580.22 L355.25,579.18 L356.00,578.15 L356.75,577.12 L357.50,576.11 L358.25,575.11 L359.00,574.13 L359.75,573.17 L360.50,572.23 L361.25,571.32 L362.00,570.44 L362.75,569.59 L363.50,568.77 L364.25,567.99 L365.00,567.25 L365.75,566.56 L366.50,565.91 L367.25,565.30 L368.00,564.75 L368.75,564.25 L369.50,563.80 L370.25,563.41 L371.00,563.08 L371.75,562.80 L372.50,562.59 L373.25,562.43 L374.00,562.33 L374.75,562.30 L375.50,562.33 L376.25,562.41 L377.00,562.56 L377.75,562.77 L378.50,563.04 L379.25,563.37 L380.00,563.75 L380.75,564.19 L381.50,564.68 L382.25,565.23 L383.00,565.82 L383.75,566.47 L384.50,567.16 L385.25,567.89 L386.00,568.66 L386.75,569.48 L387.50,570.32 L388.25,571.20 L389.00,572.11 L389.75,573.04 L390.50,574.00 L391.25,574.98 L392.00,575.98 L392.75,576.99 L393.50,578.01 L394.25,579.04 L395.00,580.08 L395.75,581.12 L396.50,582.16 L397.25,583.19 L398.00,584.23 L398.75,585.25 L399.50,586.27 L400.25,587.27 L401.00,588.26 L401.75,589.23 L402.50,590.19 L403.25,591.13 L404.00,592.04 L404.75,592.94 L405.50,593.81 L406.25,594.66 L407.00,595.48 L407.75,596.28 L408.50,597.06 L409.25,597.80 L410.00,598.52 L410.75,599.21 L411.50,599.88 L412.25,600.51 L413.00,601.12 L413.75,601.71 L414.50,602.26 L415.25,602.79 L416.00,603.29 L416.75,603.77 L417.50,604.23 L418.25,604.66 L419.00,605.06 L419.75,605.44 L420.50,605.80 L421.25,606.14 L422.00,606.46 L422.75,606.76 L423.50,607.04 L424.25,607.30 L425.00,607.54 L425.75,607.77 L426.50,607.98 L427.25,608.18 L428.00,608.36 L428.75,608.53 L429.50,608.69 L430.25,608.83 L431.00,608.96 L431.75,609.09 L432.50,609.20 L433.25,609.30 L434.00,609.40 L434.75,609.48 L435.50,609.56 L436.25,609.64 L437.00,609.70 L437.75,609.76 L438.50,609.82 L439.25,609.87 L440.00,609.91 L440.75,609.95 L441.50,609.99 L442.25,610.02 L443.00,610.05 L443.75,610.08 L444.50,610.11 L445.25,610.13 L446.00,610.15 L446.75,610.16 L447.50,610.18 L448.25,610.19 L449.00,610.21 L449.75,610.22 L450.50,610.23 L451.25,610.24 L452.00,610.24 L452.75,610.25 L453.50,610.26 L454.25,610.26 L455.00,610.27 L455.75,610.27 L456.50,610.28 L457.25,610.28 L458.00,610.28 L458.75,610.28 L459.50,610.29 L460.25,610.29 L461.00,610.29 L461.75,610.29 L462.50,610.29 L463.25,610.29 L464.00,610.29 L464.75,610.30 L465.50,610.30 L466.25,610.30 L467.00,610.30 L467.75,610.30 L468.50,610.30 L469.25,610.30 L470.00,610.30 L470.75,610.30 L471.50,610.30 L472.25,610.30 L473.00,610.30 L473.75,610.30 L474.50,610.30 L475.25,610.30 L476.00,610.30 L476.75,610.30 L477.50,610.30 L478.25,610.30 L479.00,610.30 L479.75,610.30 L480.50,610.30 L481.25,610.30 L482.00,610.30 L482.75,610.30 L483.50,610.30 L484.25,610.30 L485.00,610.30 L485.75,610.30 L486.50,610.30 L487.25,610.30 L488.00,610.30 L488.75,610.30 L489.50,610.30 L490.25,610.30 L491.00,610.30 L491.75,610.30 L492.50,610.30 L493.25,610.30 L494.00,610.30 L494.75,610.30 L495.50,610.30 L496.25,610.30 L497.00,610.30 L497.75,610.30 L498.50,610.30 L499.25,610.30" fill="none" stroke="#c9cbca" stroke-width="3"/>
<path d="M215.00,610.30 L215.75,610.30 L216.50,610.30 L217.25,610.30 L218.00,610.30 L218.75,610.30 L219.50,610.30 L220.25,610.30 L221.00,610.30 L221.75,610.30 L222.50,610.30 L223.25,610.30 L224.00,610.30 L224.75,610.30 L225.50,610.30 L226.25,610.30 L227.00,610.30 L227.75,610.30 L228.50,610.30 L229.25,610.30 L230.00,610.30 L230.75,610.30 L231.50,610.30 L232.25,610.30 L233.00,610.30 L233.75,610.30 L234.50,610.30 L235.25,610.30 L236.00,610.30 L236.75,610.30 L237.50,610.30 L238.25,610.30 L239.00,610.30 L239.75,610.30 L240.50,610.30 L241.25,610.30 L242.00,610.30 L242.75,610.30 L243.50,610.30 L244.25,610.30 L245.00,610.30 L245.75,610.30 L246.50,610.30 L247.25,610.30 L248.00,610.30 L248.75,610.30 L249.50,610.30 L250.25,610.30 L251.00,610.30 L251.75,610.30 L252.50,610.30 L253.25,610.30 L254.00,610.30 L254.75,610.30 L255.50,610.30 L256.25,610.30 L257.00,610.30 L257.75,610.30 L258.50,610.30 L259.25,610.30 L260.00,610.30 L260.75,610.30 L261.50,610.30 L262.25,610.30 L263.00,610.30 L263.75,610.30 L264.50,610.29 L265.25,610.29 L266.00,610.29 L266.75,610.29 L267.50,610.29 L268.25,610.29 L269.00,610.29 L269.75,610.29 L270.50,610.28 L271.25,610.28 L272.00,610.28 L272.75,610.28 L273.50,610.27 L274.25,610.27 L275.00,610.27 L275.75,610.26 L276.50,610.26 L277.25,610.25 L278.00,610.25 L278.75,610.24 L279.50,610.23 L280.25,610.22 L281.00,610.21 L281.75,610.20 L282.50,610.19 L283.25,610.18 L284.00,610.17 L284.75,610.15 L285.50,610.13 L286.25,610.12 L287.00,610.10 L287.75,610.07 L288.50,610.05 L289.25,610.02 L290.00,609.99 L290.75,609.96 L291.50,609.92 L292.25,609.88 L293.00,609.84 L293.75,609.80 L294.50,609.75 L295.25,609.69 L296.00,609.63 L296.75,609.57 L297.50,609.50 L298.25,609.42 L299.00,609.34 L299.75,609.25 L300.50,609.15 L301.25,609.05 L302.00,608.94 L302.75,608.82 L303.50,608.69 L304.25,608.55 L305.00,608.41 L305.75,608.25 L306.50,608.08 L307.25,607.90 L308.00,607.71 L308.75,607.50 L309.50,607.29 L310.25,607.06 L311.00,606.81 L311.75,606.55 L312.50,606.27 L313.25,605.98 L314.00,605.68 L314.75,605.35 L315.50,605.01 L316.25,604.65 L317.00,604.27 L317.75,603.87 L318.50,603.46 L319.25,603.02 L320.00,602.57 L320.75,602.09 L321.50,601.60 L322.25,601.08 L323.00,600.54 L323.75,599.99 L324.50,599.41 L325.25,598.81 L326.00,598.19 L326.75,597.55 L327.50,596.89 L328.25,596.21 L329.00,595.51 L329.75,594.79 L330.50,594.06 L331.25,593.30 L332.00,592.53 L332.75,591.74 L333.50,590.94 L334.25,590.12 L335.00,589.29 L335.75,588.45 L336.50,587.60 L337.25,586.74 L338.00,585.87 L338.75,584.99 L339.50,584.11 L340.25,583.23 L341.00,582.35 L341.75,581.46 L342.50,580.58 L343.25,579.70 L344.00,578.83 L344.75,577.97 L345.50,577.11 L346.25,576.27 L347.00,575.45 L347.75,574.64 L348.50,573.85 L349.25,573.07 L350.00,572.32 L350.75,571.60 L351.50,570.90 L352.25,570.23 L353.00,569.59 L353.75,568.98 L354.50,568.41 L355.25,567.87 L356.00,567.36 L356.75,566.90 L357.50,566.47 L358.25,566.09 L359.00,565.75 L359.75,565.45 L360.50,565.19 L361.25,564.98 L362.00,564.82 L362.75,564.70 L363.50,564.63 L364.25,564.60 L365.00,564.62 L365.75,564.69 L366.50,564.80 L367.25,564.96 L368.00,565.16 L368.75,565.41 L369.50,565.71 L370.25,566.04 L371.00,566.42 L371.75,566.84 L372.50,567.30 L373.25,567.80 L374.00,568.33 L374.75,568.90 L375.50,569.51 L376.25,570.14 L377.00,570.81 L377.75,571.50 L378.50,572.23 L379.25,572.97 L380.00,573.74 L380.75,574.53 L381.50,575.34 L382.25,576.16 L383.00,577.00 L383.75,577.85 L384.50,578.72 L385.25,579.59 L386.00,580.46 L386.75,581.34 L387.50,582.23 L388.25,583.11 L389.00,584.00 L389.75,584.88 L390.50,585.75 L391.25,586.62 L392.00,587.49 L392.75,588.34 L393.50,589.18 L394.25,590.01 L395.00,590.83 L395.75,591.64 L396.50,592.43 L397.25,593.20 L398.00,593.96 L398.75,594.70 L399.50,595.42 L400.25,596.12 L401.00,596.80 L401.75,597.46 L402.50,598.11 L403.25,598.73 L404.00,599.33 L404.75,599.91 L405.50,600.47 L406.25,601.01 L407.00,601.53 L407.75,602.03 L408.50,602.51 L409.25,602.96 L410.00,603.40 L410.75,603.82 L411.50,604.22 L412.25,604.60 L413.00,604.96 L413.75,605.31 L414.50,605.63 L415.25,605.94 L416.00,606.24 L416.75,606.51 L417.50,606.78 L418.25,607.02 L419.00,607.26 L419.75,607.48 L420.50,607.68 L421.25,607.88 L422.00,608.06 L422.75,608.23 L423.50,608.39 L424.25,608.54 L425.00,608.67 L425.75,608.80 L426.50,608.92 L427.25,609.04 L428.00,609.14 L428.75,609.24 L429.50,609.33 L430.25,609.41 L431.00,609.49 L431.75,609.56 L432.50,609.62 L433.25,609.68 L434.00,609.74 L434.75,609.79 L435.50,609.84 L436.25,609.88 L437.00,609.92 L437.75,609.95 L438.50,609.99 L439.25,610.02 L440.00,610.04 L440.75,610.07 L441.50,610.09 L442.25,610.11 L443.00,610.13 L443.75,610.15 L444.50,610.16 L445.25,610.18 L446.00,610.19 L446.75,610.20 L447.50,610.21 L448.25,610.22 L449.00,610.23 L449.75,610.24 L450.50,610.25 L451.25,610.25 L452.00,610.26 L452.75,610.26 L453.50,610.27 L454.25,610.27 L455.00,610.27 L455.75,610.28 L456.50,610.28 L457.25,610.28 L458.00,610.28 L458.75,610.29 L459.50,610.29 L460.25,610.29 L461.00,610.29 L461.75,610.29 L462.50,610.29 L463.25,610.29 L464.00,610.29 L464.75,610.30 L465.50,610.30 L466.25,610.30 L467.00,610.30 L467.75,610.30 L468.50,610.30 L469.25,610.30 L470.00,610.30 L470.75,610.30 L471.50,610.30 L472.25,610.30 L473.00,610.30 L473.75,610.30 L474.50,610.30 L475.25,610.30 L476.00,610.30 L476.75,610.30 L477.50,610.30 L478.25,610.30 L479.00,610.30 L479.75,610.30 L480.50,610.30 L481.25,610.30 L482.00,610.30 L482.75,610.30 L483.50,610.30 L484.25,610.30 L485.00,610.30 L485.75,610.30 L486.50,610.30 L487.25,610.30 L488.00,610.30 L488.75,610.30 L489.50,610.30 L490.25,610.30 L491.00,610.30 L491.75,610.30 L492.50,610.30 L493.25,610.30 L494.00,610.30 L494.75,610.30 L495.50,610.30 L496.25,610.30 L497.00,610.30 L497.75,610.30 L498.50,610.30 L499.25,610.30" fill="none" stroke="#c9cbca" stroke-width="3"/>
<path d="M215.00,610.30 L215.75,610.30 L216.50,610.30 L217.25,610.30 L218.00,610.30 L218.75,610.30 L219.50,610.30 L220.25,610.30 L221.00,610.30 L221.75,610.30 L222.50,610.30 L223.25,610.30 L224.00,610.30 L224.75,610.30 L225.50,610.30 L226.25,610.30 L227.00,610.30 L227.75,610.30 L228.50,610.30 L229.25,610.30 L230.00,610.30 L230.75,610.30 L231.50,610.30 L232.25,610.30 L233.00,610.30 L233.75,610.30 L234.50,610.30 L235.25,610.30 L236.00,610.30 L236.75,610.30 L237.50,610.30 L238.25,610.30 L239.00,610.30 L239.75,610.30 L240.50,610.30 L241.25,610.30 L242.00,610.30 L242.75,610.30 L243.50,610.30 L244.25,610.30 L245.00,610.30 L245.75,610.30 L246.50,610.30 L247.25,610.30 L248.00,610.30 L248.75,610.30 L249.50,610.30 L250.25,610.30 L251.00,610.30 L251.75,610.30 L252.50,610.30 L253.25,610.30 L254.00,610.30 L254.75,610.30 L255.50,610.30 L256.25,610.30 L257.00,610.30 L257.75,610.30 L258.50,610.30 L259.25,610.30 L260.00,610.30 L260.75,610.30 L261.50,610.30 L262.25,610.30 L263.00,610.30 L263.75,610.30 L264.50,610.30 L265.25,610.30 L266.00,610.30 L266.75,610.30 L267.50,610.30 L268.25,610.30 L269.00,610.30 L269.75,610.30 L270.50,610.30 L271.25,610.30 L272.00,610.30 L272.75,610.30 L273.50,610.30 L274.25,610.30 L275.00,610.30 L275.75,610.30 L276.50,610.30 L277.25,610.30 L278.00,610.30 L278.75,610.30 L279.50,610.30 L280.25,610.30 L281.00,610.30 L281.75,610.30 L282.50,610.30 L283.25,610.30 L284.00,610.30 L284.75,610.30 L285.50,610.30 L286.25,610.30 L287.00,610.30 L287.75,610.30 L288.50,610.30 L289.25,610.30 L290.00,610.30 L290.75,610.30 L291.50,610.30 L292.25,610.30 L293.00,610.30 L293.75,610.30 L294.50,610.30 L295.25,610.30 L296.00,610.30 L296.75,610.30 L297.50,610.30 L298.25,610.30 L299.00,610.30 L299.75,610.30 L300.50,610.30 L301.25,610.30 L302.00,610.30 L302.75,610.30 L303.50,610.30 L304.25,610.30 L305.00,610.30 L305.75,610.30 L306.50,610.30 L307.25,610.30 L308.00,610.30 L308.75,610.30 L309.50,610.30 L310.25,610.30 L311.00,610.30 L311.75,610.30 L312.50,610.30 L313.25,610.30 L314.00,610.30 L314.75,610.30 L315.50,610.30 L316.25,610.30 L317.00,610.30 L317.75,610.30 L318.50,610.30 L319.25,610.30 L320.00,610.30 L320.75,610.30 L321.50,610.30 L322.25,610.30 L323.00,610.30 L323.75,610.30 L324.50,610.30 L325.25,610.30 L326.00,610.30 L326.75,610.30 L327.50,610.30 L328.25,610.30 L329.00,610.30 L329.75,610.30 L330.50,610.30 L331.25,610.30 L332.00,610.30 L332.75,610.30 L333.50,610.30 L334.25,610.30 L335.00,610.30 L335.75,610.30 L336.50,610.30 L337.25,610.30 L338.00,610.30 L338.75,610.30 L339.50,610.30 L340.25,610.30 L341.00,610.30 L341.75,610.30 L342.50,610.30 L343.25,610.30 L344.00,610.30 L344.75,610.30 L345.50,610.30 L346.25,610.30 L347.00,610.30 L347.75,610.30 L348.50,610.30 L349.25,610.30 L350.00,610.30 L350.75,610.30 L351.50,610.30 L352.25,610.30 L353.00,610.30 L353.75,610.29 L354.50,610.29 L355.25,610.29 L356.00,610.28 L356.75,610.28 L357.50,610.27 L358.25,610.27 L359.00,610.26 L359.75,610.24 L360.50,610.23 L361.25,610.21 L362.00,610.18 L362.75,610.15 L363.50,610.11 L364.25,610.07 L365.00,610.01 L365.75,609.94 L366.50,609.85 L367.25,609.75 L368.00,609.63 L368.75,609.49 L369.50,609.32 L370.25,609.12 L371.00,608.88 L371.75,608.61 L372.50,608.30 L373.25,607.93 L374.00,607.52 L374.75,607.05 L375.50,606.52 L376.25,605.92 L377.00,605.25 L377.75,604.51 L378.50,603.69 L379.25,602.79 L380.00,601.81 L380.75,600.75 L381.50,599.61 L382.25,598.39 L383.00,597.09 L383.75,595.72 L384.50,594.29 L385.25,592.80 L386.00,591.27 L386.75,589.70 L387.50,588.11 L388.25,586.51 L389.00,584.91 L389.75,583.34 L390.50,581.82 L391.25,580.35 L392.00,578.95 L392.75,577.65 L393.50,576.46 L394.25,575.39 L395.00,574.47 L395.75,573.69 L396.50,573.08 L397.25,572.64 L398.00,572.38 L398.75,572.30 L399.50,572.40 L400.25,572.69 L401.00,573.15 L401.75,573.79 L402.50,574.58 L403.25,575.53 L404.00,576.61 L404.75,577.82 L405.50,579.13 L406.25,580.54 L407.00,582.02 L407.75,583.55 L408.50,585.12 L409.25,586.72 L410.00,588.32 L410.75,589.91 L411.50,591.47 L412.25,593.00 L413.00,594.48 L413.75,595.91 L414.50,597.27 L415.25,598.55 L416.00,599.77 L416.75,600.90 L417.50,601.95 L418.25,602.92 L419.00,603.80 L419.75,604.61 L420.50,605.35 L421.25,606.00 L422.00,606.59 L422.75,607.12 L423.50,607.58 L424.25,607.99 L425.00,608.34 L425.75,608.65 L426.50,608.92 L427.25,609.15 L428.00,609.34 L428.75,609.51 L429.50,609.65 L430.25,609.77 L431.00,609.87 L431.75,609.95 L432.50,610.02 L433.25,610.07 L434.00,610.12 L434.75,610.16 L435.50,610.19 L436.25,610.21 L437.00,610.23 L437.75,610.24 L438.50,610.26 L439.25,610.27 L440.00,610.27 L440.75,610.28 L441.50,610.29 L442.25,610.29 L443.00,610.29 L443.75,610.29 L444.50,610.30 L445.25,610.30 L446.00,610.30 L446.75,610.30 L447.50,610.30 L448.25,610.30 L449.00,610.30 L449.75,610.30 L450.50,610.30 L451.25,610.30 L452.00,610.30 L452.75,610.30 L453.50,610.30 L454.25,610.30 L455.00,610.30 L455.75,610.30 L456.50,610.30 L457.25,610.30 L458.00,610.30 L458.75,610.30 L459.50,610.30 L460.25,610.30 L461.00,610.30 L461.75,610.30 L462.50,610.30 L463.25,610.30 L464.00,610.30 L464.75,610.30 L465.50,610.30 L466.25,610.30 L467.00,610.30 L467.75,610.30 L468.50,610.30 L469.25,610.30 L470.00,610.30 L470.75,610.30 L471.50,610.30 L472.25,610.30 L473.00,610.30 L473.75,610.30 L474.50,610.30 L475.25,610.30 L476.00,610.30 L476.75,610.30 L477.50,610.30 L478.25,610.30 L479.00,610.30 L479.75,610.30 L480.50,610.30 L481.25,610.30 L482.00,610.30 L482.75,610.30 L483.50,610.30 L484.25,610.30 L485.00,610.30 L485.75,610.30 L486.50,610.30 L487.25,610.30 L488.00,610.30 L488.75,610.30 L489.50,610.30 L490.25,610.30 L491.00,610.30 L491.75,610.30 L492.50,610.30 L493.25,610.30 L494.00,610.30 L494.75,610.30 L495.50,610.30 L496.25,610.30 L497.00,610.30 L497.75,610.30 L498.50,610.30 L499.25,610.30" fill="none" stroke="#c9cbca" stroke-width="3"/>
<path d="M215.00,609.84 L215.75,609.82 L216.50,609.80 L217.25,609.77 L218.00,609.73 L218.75,609.70 L219.50,609.65 L220.25,609.61 L221.00,609.56 L221.75,609.50 L222.50,609.43 L223.25,609.36 L224.00,609.28 L224.75,609.19 L225.50,609.10 L226.25,608.99 L227.00,608.87 L227.75,608.74 L228.50,608.59 L229.25,608.44 L230.00,608.27 L230.75,608.08 L231.50,607.87 L232.25,607.65 L233.00,607.41 L233.75,607.15 L234.50,606.87 L235.25,606.57 L236.00,606.24 L236.75,605.89 L237.50,605.52 L238.25,605.11 L239.00,604.69 L239.75,604.23 L240.50,603.75 L241.25,603.23 L242.00,602.69 L242.75,602.11 L243.50,601.51 L244.25,600.88 L245.00,600.21 L245.75,599.51 L246.50,598.78 L247.25,598.02 L248.00,597.24 L248.75,596.42 L249.50,595.57 L250.25,594.70 L251.00,593.80 L251.75,592.88 L252.50,591.94 L253.25,590.97 L254.00,589.99 L254.75,588.99 L255.50,587.98 L256.25,586.95 L257.00,585.92 L257.75,584.89 L258.50,583.85 L259.25,582.82 L260.00,581.79 L260.75,580.77 L261.50,579.76 L262.25,578.77 L263.00,577.80 L263.75,576.85 L264.50,575.92 L265.25,575.03 L266.00,574.17 L266.75,573.35 L267.50,572.56 L268.25,571.82 L269.00,571.13 L269.75,570.48 L270.50,569.88 L271.25,569.33 L272.00,568.84 L272.75,568.40 L273.50,568.02 L274.25,567.69 L275.00,567.42 L275.75,567.21 L276.50,567.05 L277.25,566.95 L278.00,566.90 L278.75,566.91 L279.50,566.96 L280.25,567.07 L281.00,567.22 L281.75,567.41 L282.50,567.65 L283.25,567.92 L284.00,568.23 L284.75,568.57 L285.50,568.93 L286.25,569.32 L287.00,569.72 L287.75,570.14 L288.50,570.57 L289.25,571.00 L290.00,571.43 L290.75,571.86 L291.50,572.29 L292.25,572.70 L293.00,573.09 L293.75,573.47 L294.50,573.82 L295.25,574.14 L296.00,574.43 L296.75,574.69 L297.50,574.91 L298.25,575.09 L299.00,575.23 L299.75,575.32 L300.50,575.36 L301.25,575.36 L302.00,575.30 L302.75,575.19 L303.50,575.03 L304.25,574.81 L305.00,574.54 L305.75,574.21 L306.50,573.83 L307.25,573.39 L308.00,572.89 L308.75,572.34 L309.50,571.73 L310.25,571.07 L311.00,570.36 L311.75,569.59 L312.50,568.77 L313.25,567.90 L314.00,566.98 L314.75,566.02 L315.50,565.01 L316.25,563.95 L317.00,562.86 L317.75,561.72 L318.50,560.54 L319.25,559.33 L320.00,558.08 L320.75,556.79 L321.50,555.48 L322.25,554.14 L323.00,552.76 L323.75,551.37 L324.50,549.94 L325.25,548.50 L326.00,547.03 L326.75,545.55 L327.50,544.05 L328.25,542.53 L329.00,541.00 L329.75,539.46 L330.50,537.91 L331.25,536.35 L332.00,534.79 L332.75,533.22 L333.50,531.64 L334.25,530.07 L335.00,528.50 L335.75,526.92 L336.50,525.36 L337.25,523.80 L338.00,522.24 L338.75,520.69 L339.50,519.16 L340.25,517.64 L341.00,516.13 L341.75,514.64 L342.50,513.17 L343.25,511.71 L344.00,510.28 L344.75,508.88 L345.50,507.49 L346.25,506.14 L347.00,504.82 L347.75,503.53 L348.50,502.27 L349.25,501.05 L350.00,499.87 L350.75,498.73 L351.50,497.63 L352.25,496.58 L353.00,495.57 L353.75,494.61 L354.50,493.71 L355.25,492.86 L356.00,492.06 L356.75,491.32 L357.50,490.64 L358.25,490.02 L359.00,489.46 L359.75,488.97 L360.50,488.54 L361.25,488.18 L362.00,487.89 L362.75,487.66 L363.50,487.50 L364.25,487.41 L365.00,487.38 L365.75,487.42 L366.50,487.53 L367.25,487.70 L368.00,487.93 L368.75,488.22 L369.50,488.56 L370.25,488.96 L371.00,489.41 L371.75,489.90 L372.50,490.43 L373.25,491.00 L374.00,491.60 L374.75,492.22 L375.50,492.86 L376.25,493.51 L377.00,494.18 L377.75,494.84 L378.50,495.51 L379.25,496.17 L380.00,496.83 L380.75,497.47 L381.50,498.11 L382.25,498.73 L383.00,499.34 L383.75,499.94 L384.50,500.53 L385.25,501.12 L386.00,501.71 L386.75,502.32 L387.50,502.94 L388.25,503.58 L389.00,504.26 L389.75,504.99 L390.50,505.77 L391.25,506.62 L392.00,507.55 L392.75,508.56 L393.50,509.66 L394.25,510.88 L395.00,512.20 L395.75,513.64 L396.50,515.20 L397.25,516.88 L398.00,518.69 L398.75,520.62 L399.50,522.66 L400.25,524.82 L401.00,527.08 L401.75,529.44 L402.50,531.88 L403.25,534.39 L404.00,536.96 L404.75,539.56 L405.50,542.20 L406.25,544.84 L407.00,547.48 L407.75,550.09 L408.50,552.67 L409.25,555.20 L410.00,557.66 L410.75,560.05 L411.50,562.34 L412.25,564.54 L413.00,566.63 L413.75,568.61 L414.50,570.47 L415.25,572.21 L416.00,573.83 L416.75,575.32 L417.50,576.70 L418.25,577.95 L419.00,579.09 L419.75,580.11 L420.50,581.03 L421.25,581.85 L422.00,582.57 L422.75,583.21 L423.50,583.77 L424.25,584.25 L425.00,584.67 L425.75,585.03 L426.50,585.34 L427.25,585.60 L428.00,585.83 L428.75,586.02 L429.50,586.10 L430.25,586.10 L431.00,586.10 L431.75,586.10 L432.50,586.10 L433.25,586.10 L434.00,586.10 L434.75,586.10 L435.50,586.10 L436.25,586.10 L437.00,586.10 L437.75,586.10 L438.50,586.10 L439.25,586.10 L440.00,586.10" fill="none" stroke="#555555" stroke-width="3.7" stroke-linejoin="round"/>
<path d="M215.00,609.84 L215.75,609.82 L216.50,609.80 L217.25,609.77 L218.00,609.73 L218.75,609.70 L219.50,609.65 L220.25,609.61 L221.00,609.56 L221.75,609.50 L222.50,609.43 L223.25,609.36 L224.00,609.28 L224.75,609.19 L225.50,609.10 L226.25,608.99 L227.00,608.87 L227.75,608.74 L228.50,608.59 L229.25,608.44 L230.00,608.27 L230.75,608.08 L231.50,607.87 L232.25,607.65 L233.00,607.41 L233.75,607.15 L234.50,606.87 L235.25,606.57 L236.00,606.24 L236.75,605.89 L237.50,605.52 L238.25,605.11 L239.00,604.69 L239.75,604.23 L240.50,603.75 L241.25,603.23 L242.00,602.69 L242.75,602.11 L243.50,601.51 L244.25,600.88 L245.00,600.21 L245.75,599.51 L246.50,598.78 L247.25,598.02 L248.00,597.24 L248.75,596.42 L249.50,595.57 L250.25,594.70 L251.00,593.80 L251.75,592.88 L252.50,591.94 L253.25,590.97 L254.00,589.99 L254.75,588.99 L255.50,587.98 L256.25,586.95 L257.00,585.92 L257.75,584.89 L258.50,583.85 L259.25,582.82 L260.00,581.79 L260.75,580.77 L261.50,579.76 L262.25,578.77 L263.00,577.80" fill="none" stroke="#c9cbca" stroke-width="2.8" stroke-linecap="butt"/>
<line x1="103.50" y1="608.75" x2="216.00" y2="608.75" stroke="#a8a8a8" stroke-width="0.8" />
<path d="M256.50,608.80 L257.25,608.74 L258.00,608.68 L258.75,608.62 L259.50,608.55 L260.25,608.48 L261.00,608.41 L261.75,608.32 L262.50,608.24 L263.25,608.14 L264.00,608.04 L264.75,607.94 L265.50,607.83 L266.25,607.71 L267.00,607.58 L267.75,607.45 L268.50,607.30 L269.25,607.15 L270.00,606.99 L270.75,606.82 L271.50,606.64 L272.25,606.45 L273.00,606.26 L273.75,606.05 L274.50,605.82 L275.25,605.59 L276.00,605.35 L276.75,605.09 L277.50,604.82 L278.25,604.54 L279.00,604.25 L279.75,603.94 L280.50,603.61 L281.25,603.28 L282.00,602.93 L282.75,602.56 L283.50,602.18 L284.25,601.78 L285.00,601.37 L285.75,600.94 L286.50,600.49 L287.25,600.03 L288.00,599.56 L288.75,599.06 L289.50,598.55 L290.25,598.02 L291.00,597.48 L291.75,596.92 L292.50,596.34 L293.25,595.75 L294.00,595.14 L294.75,594.51 L295.50,593.87 L296.25,593.22 L297.00,592.55 L297.75,591.86 L298.50,591.16 L299.25,590.44 L300.00,589.72 L300.75,588.98 L301.50,588.23 L302.25,587.46 L303.00,586.69 L303.75,585.90 L304.50,585.11 L305.25,584.31 L306.00,583.50 L306.75,582.69 L307.50,581.87 L308.25,581.05 L309.00,580.23 L309.75,579.40 L310.50,578.57 L311.25,577.75 L312.00,576.92 L312.75,576.10 L313.50,575.29 L314.25,574.48 L315.00,573.67 L315.75,572.88 L316.50,572.10 L317.25,571.32 L318.00,570.56 L318.75,569.82 L319.50,569.09 L320.25,568.38 L321.00,567.69 L321.75,567.01 L322.50,566.36 L323.25,565.73 L324.00,565.13 L324.75,564.55 L325.50,563.99 L326.25,563.46 L327.00,562.96 L327.75,562.50 L328.50,562.06 L329.25,561.65 L330.00,561.28 L330.75,560.93 L331.50,560.63 L332.25,560.35 L333.00,560.11 L333.75,559.91 L334.50,559.75 L335.25,559.62 L336.00,559.52 L336.75,559.47 L337.50,559.45 L338.25,559.47 L339.00,559.52 L339.75,559.62 L340.50,559.75 L341.25,559.91 L342.00,560.11 L342.75,560.35 L343.50,560.63 L344.25,560.93 L345.00,561.28 L345.75,561.65 L346.50,562.06 L347.25,562.50 L348.00,562.96 L348.75,563.46 L349.50,563.99 L350.25,564.55 L351.00,565.13 L351.75,565.73 L352.50,566.36 L353.25,567.01 L354.00,567.69 L354.75,568.38 L355.50,569.09 L356.25,569.82 L357.00,570.56 L357.75,571.32 L358.50,572.10 L359.25,572.88 L360.00,573.67 L360.75,574.48 L361.50,575.29 L362.25,576.10 L363.00,576.92 L363.75,577.75 L364.50,578.57 L365.25,579.40 L366.00,580.23 L366.75,581.05 L367.50,581.87 L368.25,582.69 L369.00,583.50 L369.75,584.31 L370.50,585.11 L371.25,585.90 L372.00,586.69 L372.75,587.46 L373.50,588.23 L374.25,588.98 L375.00,589.72 L375.75,590.44 L376.50,591.16 L377.25,591.86 L378.00,592.55 L378.75,593.22 L379.50,593.87 L380.25,594.51 L381.00,595.14 L381.75,595.75 L382.50,596.34 L383.25,596.92 L384.00,597.48 L384.75,598.02 L385.50,598.55 L386.25,599.06 L387.00,599.56 L387.75,600.03 L388.50,600.49 L389.25,600.94 L390.00,601.37 L390.75,601.78 L391.50,602.18 L392.25,602.56 L393.00,602.93 L393.75,603.28 L394.50,603.61 L395.25,603.94 L396.00,604.25 L396.75,604.54 L397.50,604.82 L398.25,605.09 L399.00,605.35 L399.75,605.59 L400.50,605.82 L401.25,606.05 L402.00,606.26 L402.75,606.45 L403.50,606.64 L404.25,606.82 L405.00,606.99 L405.75,607.15 L406.50,607.30 L407.25,607.45 L408.00,607.58 L408.75,607.71 L409.50,607.83 L410.25,607.94 L411.00,608.04 L411.75,608.14 L412.50,608.24 L413.25,608.32 L414.00,608.41 L414.75,608.48 L415.50,608.55 L416.25,608.62 L417.00,608.68 L417.75,608.74 L418.50,608.80 L419.25,608.85 L420.00,608.89 L420.75,608.94 L421.50,608.98 L422.25,609.02 L423.00,609.05 L423.75,609.08 L424.50,609.11 L425.25,609.14 L426.00,609.17 L426.75,609.19 L427.50,609.21 L428.25,609.23 L429.00,609.25 L429.75,609.27 L430.50,609.29 L431.25,609.30 L432.00,609.31 L432.75,609.33 L433.50,609.34 L434.25,609.35 L435.00,609.36 L435.75,609.37 L436.50,609.37 L437.25,609.38 L438.00,609.39 L438.75,609.39 L439.50,609.40 L440.25,609.40 L441.00,609.41 L441.75,609.41 L442.50,609.42 L443.25,609.42 L444.00,609.42 L444.75,609.43 L445.50,609.43 L446.25,609.43 L447.00,609.43 L447.75,609.43 L448.50,609.44 L449.25,609.44 L450.00,609.44 L450.75,609.44 L451.50,609.44 L452.25,609.44 L453.00,609.44 L453.75,609.44 L454.50,609.44 L455.25,609.44 L456.00,609.45 L456.75,609.45 L457.50,609.45 L458.25,609.45 L459.00,609.45 L459.75,609.45 L460.50,609.45 L461.25,609.45 L462.00,609.45 L462.75,609.45 L463.50,609.45 L464.25,609.45 L465.00,609.45 L465.75,609.45 L466.50,609.45 L467.25,609.45 L468.00,609.45 L468.75,609.45 L469.50,609.45 L470.25,609.45 L471.00,609.45 L471.75,609.45 L472.50,609.45 L473.25,609.45 L474.00,609.45 L474.75,609.45 L475.50,609.45 L476.25,609.45 L477.00,609.45 L477.75,609.45 L478.50,609.45" fill="none" stroke="#e8471c" stroke-width="2.5"/>
<line x1="309.90" y1="578.90" x2="365.80" y2="578.90" stroke="#e8471c" stroke-width="1.7" />
<path d="M103.50,610.90 L104.25,610.90 L105.00,610.90 L105.75,610.90 L106.50,610.90 L107.25,610.90 L108.00,610.90 L108.75,610.90 L109.50,610.90 L110.25,610.90 L111.00,610.90 L111.75,610.90 L112.50,610.90 L113.25,610.90 L114.00,610.90 L114.75,610.90 L115.50,610.90 L116.25,610.90 L117.00,610.90 L117.75,610.90 L118.50,610.90 L119.25,610.90 L120.00,610.90 L120.75,610.90 L121.50,610.90 L122.25,610.90 L123.00,610.90 L123.75,610.90 L124.50,610.90 L125.25,610.90 L126.00,610.90 L126.75,610.90 L127.50,610.90 L128.25,610.90 L129.00,610.90 L129.75,610.90 L130.50,610.90 L131.25,610.90 L132.00,610.90 L132.75,610.90 L133.50,610.90 L134.25,610.90 L135.00,610.90 L135.75,610.90 L136.50,610.90 L137.25,610.90 L138.00,610.90 L138.75,610.90 L139.50,610.90 L140.25,610.90 L141.00,610.90 L141.75,610.90 L142.50,610.90 L143.25,610.90 L144.00,610.90 L144.75,610.90 L145.50,610.90 L146.25,610.90 L147.00,610.90 L147.75,610.90 L148.50,610.90 L149.25,610.90 L150.00,610.90 L150.75,610.90 L151.50,610.90 L152.25,610.90 L153.00,610.90 L153.75,610.90 L154.50,610.90 L155.25,610.90 L156.00,610.90 L156.75,610.90 L157.50,610.90 L158.25,610.90 L159.00,610.90 L159.75,610.90 L160.50,610.90 L161.25,610.90 L162.00,610.90 L162.75,610.90 L163.50,610.90 L164.25,610.90 L165.00,610.90 L165.75,610.90 L166.50,610.90 L167.25,610.90 L168.00,610.90 L168.75,610.90 L169.50,610.90 L170.25,610.90 L171.00,610.90 L171.75,610.90 L172.50,610.90 L173.25,610.90 L174.00,610.90 L174.75,610.90 L175.50,610.90 L176.25,610.90 L177.00,610.90 L177.75,610.90 L178.50,610.90 L179.25,610.90 L180.00,610.90 L180.75,610.90 L181.50,610.90 L182.25,610.90 L183.00,610.90 L183.75,610.90 L184.50,610.90 L185.25,610.90 L186.00,610.90 L186.75,610.90 L187.50,610.90 L188.25,610.90 L189.00,610.90 L189.75,610.90 L190.50,610.90 L191.25,610.90 L192.00,610.90 L192.75,610.90 L193.50,610.90 L194.25,610.90 L195.00,610.90 L195.75,610.90 L196.50,610.90 L197.25,610.90 L198.00,610.90 L198.75,610.90 L199.50,610.90 L200.25,610.90 L201.00,610.90 L201.75,610.90 L202.50,610.90 L203.25,610.90 L204.00,610.90 L204.75,610.90 L205.50,610.90 L206.25,610.90 L207.00,610.90 L207.75,610.90 L208.50,610.90 L209.25,610.90 L210.00,610.90 L210.75,610.90 L211.50,610.90 L212.25,610.90 L213.00,610.90 L213.75,610.90 L214.50,610.90 L215.25,610.90 L216.00,610.90 L216.75,610.90 L217.50,610.90 L218.25,610.90 L219.00,610.90 L219.75,610.90 L220.50,610.90 L221.25,610.90 L222.00,610.90 L222.75,610.90 L223.50,610.90 L224.25,610.90 L225.00,610.90 L225.75,610.90 L226.50,610.90 L227.25,610.90 L228.00,610.90 L228.75,610.90 L229.50,610.90 L230.25,610.90 L231.00,610.90 L231.75,610.90 L232.50,610.90 L233.25,610.90 L234.00,610.90 L234.75,610.90 L235.50,610.90 L236.25,610.90 L237.00,610.90 L237.75,610.90 L238.50,610.90 L239.25,610.90 L240.00,610.90 L240.75,610.90 L241.50,610.90 L242.25,610.90 L243.00,610.90 L243.75,610.90 L244.50,610.90 L245.25,610.90 L246.00,610.90 L246.75,610.90 L247.50,610.90 L248.25,610.90 L249.00,610.90 L249.75,610.90 L250.50,610.90 L251.25,610.90 L252.00,610.90 L252.75,610.90 L253.50,610.90 L254.25,610.90 L255.00,610.90 L255.75,610.90 L256.50,610.90 L257.25,610.90 L258.00,610.90 L258.75,610.90 L259.50,610.90 L260.25,610.90 L261.00,610.90 L261.75,610.90 L262.50,610.90 L263.25,610.90 L264.00,610.90 L264.75,610.90 L265.50,610.90 L266.25,610.90 L267.00,610.90 L267.75,610.90 L268.50,610.90 L269.25,610.90 L270.00,610.90 L270.75,610.90 L271.50,610.90 L272.25,610.90 L273.00,610.90 L273.75,610.90 L274.50,610.90 L275.25,610.90 L276.00,610.90 L276.75,610.90 L277.50,610.90 L278.25,610.90 L279.00,610.90 L279.75,610.90 L280.50,610.90 L281.25,610.90 L282.00,610.90 L282.75,610.90 L283.50,610.90 L284.25,610.90 L285.00,610.90 L285.75,610.90 L286.50,610.90 L287.25,610.90 L288.00,610.90 L288.75,610.90 L289.50,610.90 L290.25,610.90 L291.00,610.90 L291.75,610.90 L292.50,610.90 L293.25,610.90 L294.00,610.90 L294.75,610.90 L295.50,610.90 L296.25,610.90 L297.00,610.90 L297.75,610.90 L298.50,610.90 L299.25,610.90 L300.00,610.90 L300.75,610.90 L301.50,610.90 L302.25,610.90 L303.00,610.90 L303.75,610.90 L304.50,610.90 L305.25,610.90 L306.00,610.90 L306.75,610.90 L307.50,610.90 L308.25,610.90 L309.00,610.90 L309.75,610.90 L310.50,610.90 L311.25,610.90 L312.00,610.90 L312.75,610.90 L313.50,610.90 L314.25,610.90 L315.00,610.90 L315.75,610.90 L316.50,610.90 L317.25,610.90 L318.00,610.90 L318.75,610.90 L319.50,610.90 L320.25,610.90 L321.00,610.90 L321.75,610.90 L322.50,610.90 L323.25,610.90 L324.00,610.90 L324.75,610.90 L325.50,610.90 L326.25,610.90 L327.00,610.90 L327.75,610.90 L328.50,610.90 L329.25,610.90 L330.00,610.90 L330.75,610.90 L331.50,610.90 L332.25,610.90 L333.00,610.90 L333.75,610.90 L334.50,610.90 L335.25,610.90 L336.00,610.90 L336.75,610.90 L337.50,610.90 L338.25,610.90 L339.00,610.90 L339.75,610.90 L340.50,610.90 L341.25,610.90 L342.00,610.90 L342.75,610.90 L343.50,610.90 L344.25,610.90 L345.00,610.90 L345.75,610.90 L346.50,610.90 L347.25,610.90 L348.00,610.90 L348.75,610.90 L349.50,610.90 L350.25,610.90 L351.00,610.90 L351.75,610.90 L352.50,610.90 L353.25,610.90 L354.00,610.90 L354.75,610.90 L355.50,610.90 L356.25,610.90 L357.00,610.90 L357.75,610.90 L358.50,610.90 L359.25,610.90 L360.00,610.90 L360.75,610.90 L361.50,610.90 L362.25,610.90 L363.00,610.90 L363.75,610.90 L364.50,610.90 L365.25,610.90 L366.00,610.90 L366.75,610.90 L367.50,610.90 L368.25,610.90 L369.00,610.90 L369.75,610.90 L370.50,610.90 L371.25,610.89 L372.00,610.89 L372.75,610.89 L373.50,610.89 L374.25,610.89 L375.00,610.89 L375.75,610.89 L376.50,610.88 L377.25,610.88 L378.00,610.88 L378.75,610.87 L379.50,610.87 L380.25,610.86 L381.00,610.85 L381.75,610.85 L382.50,610.84 L383.25,610.83 L384.00,610.82 L384.75,610.80 L385.50,610.79 L386.25,610.77 L387.00,610.75 L387.75,610.73 L388.50,610.71 L389.25,610.68 L390.00,610.65 L390.75,610.61 L391.50,610.57 L392.25,610.53 L393.00,610.48 L393.75,610.43 L394.50,610.37 L395.25,610.30 L396.00,610.23 L396.75,610.14 L397.50,610.06 L398.25,609.96 L399.00,609.85 L399.75,609.73 L400.50,609.60 L401.25,609.46 L402.00,609.31 L402.75,609.15 L403.50,608.97 L404.25,608.78 L405.00,608.57 L405.75,608.35 L406.50,608.12 L407.25,607.86 L408.00,607.59 L408.75,607.31 L409.50,607.01 L410.25,606.69 L411.00,606.35 L411.75,605.99 L412.50,605.62 L413.25,605.23 L414.00,604.83 L414.75,604.40 L415.50,603.96 L416.25,603.51 L417.00,603.04 L417.75,602.56 L418.50,602.07 L419.25,601.56 L420.00,601.05 L420.75,600.52 L421.50,599.99 L422.25,599.46 L423.00,598.92 L423.75,598.39 L424.50,597.85 L425.25,597.32 L426.00,596.79 L426.75,596.27 L427.50,595.76 L428.25,595.27 L429.00,594.78 L429.75,594.32 L430.50,593.88 L431.25,593.46 L432.00,593.06 L432.75,592.69 L433.50,592.35 L434.25,592.03 L435.00,591.75 L435.75,591.51 L436.50,591.30 L437.25,591.12 L438.00,590.98 L438.75,590.88 L439.50,590.82 L440.25,590.80 L441.00,590.82 L441.75,590.87 L442.50,590.97 L443.25,591.10 L444.00,591.27 L444.75,591.48 L445.50,591.72 L446.25,591.99 L447.00,592.30 L447.75,592.64 L448.50,593.01 L449.25,593.40 L450.00,593.82 L450.75,594.26 L451.50,594.72 L452.25,595.20 L453.00,595.69 L453.75,596.20 L454.50,596.72 L455.25,597.25 L456.00,597.78 L456.75,598.31 L457.50,598.85 L458.25,599.39 L459.00,599.92 L459.75,600.45 L460.50,600.98 L461.25,601.49 L462.00,602.00 L462.75,602.50 L463.50,602.98 L464.25,603.45 L465.00,603.90 L465.75,604.35 L466.50,604.77 L467.25,605.18 L468.00,605.57 L468.75,605.95 L469.50,606.30 L470.25,606.64 L471.00,606.96 L471.75,607.27 L472.50,607.56 L473.25,607.83 L474.00,608.08 L474.75,608.32 L475.50,608.54 L476.25,608.75 L477.00,608.94 L477.75,609.12 L478.50,609.29 L479.25,609.44 L480.00,609.58 L480.75,609.71 L481.50,609.83 L482.25,609.94 L483.00,610.04 L483.75,610.13 L484.50,610.22 L485.25,610.29 L486.00,610.36 L486.75,610.42 L487.50,610.47 L488.25,610.52 L489.00,610.57 L489.75,610.61 L490.50,610.64 L491.25,610.67 L492.00,610.70 L492.75,610.73 L493.50,610.75 L494.25,610.77 L495.00,610.79 L495.75,610.80 L496.50,610.81 L497.25,610.83 L498.00,610.84 L498.75,610.85 L499.50,610.85 L500.25,610.86 L501.00,610.87 L501.75,610.87 L502.50,610.88 L503.25,610.88 L504.00,610.88 L504.75,610.88 L505.50,610.89 L506.25,610.89 L507.00,610.89 L507.75,610.89 L508.50,610.89 L509.25,610.89 L510.00,610.90 L510.75,610.90 L511.50,610.90 L512.25,610.90 L513.00,610.90 L513.75,610.90 L514.50,610.90 L515.25,610.90 L516.00,610.90 L516.75,610.90 L517.50,610.90 L518.25,610.90 L519.00,610.90 L519.75,610.90 L520.50,610.90 L521.25,610.90 L522.00,610.90 L522.75,610.90 L523.50,610.90 L524.25,610.90 L525.00,610.90 L525.75,610.90 L526.50,610.90 L527.25,610.90 L528.00,610.90 L528.75,610.90 L529.50,610.90 L530.25,610.90 L531.00,610.90 L531.75,610.90 L532.50,610.90 L533.25,610.90 L534.00,610.90 L534.75,610.90 L535.50,610.90 L536.25,610.90 L537.00,610.90 L537.75,610.90 L538.50,610.90 L539.25,610.90 L540.00,610.90 L540.75,610.90 L541.50,610.90 L542.25,610.90 L543.00,610.90 L543.75,610.90 L544.50,610.90 L545.25,610.90 L546.00,610.90 L546.75,610.90 L547.50,610.90 L548.25,610.90 L549.00,610.90 L549.75,610.90 L550.50,610.90 L551.25,610.90 L552.00,610.90 L552.75,610.90 L553.50,610.90 L554.25,610.90 L555.00,610.90 L555.75,610.90 L556.50,610.90 L557.25,610.90 L558.00,610.90 L558.75,610.90 L559.50,610.90 L560.25,610.90 L561.00,610.90 L561.75,610.90 L562.50,610.90 L563.25,610.90 L564.00,610.90 L564.75,610.90 L565.50,610.90 L566.25,610.90 L567.00,610.90 L567.75,610.90 L568.50,610.90 L569.25,610.90 L570.00,610.90 L570.75,610.90 L571.50,610.90 L572.25,610.90 L573.00,610.90 L573.75,610.90 L574.50,610.90 L575.25,610.90 L576.00,610.90 L576.75,610.90 L577.50,610.90 L578.25,610.90 L579.00,610.90 L579.75,610.90 L580.50,610.90 L581.25,610.90 L582.00,610.90 L582.75,610.90 L583.50,610.90 L584.25,610.90 L585.00,610.90 L585.75,610.90 L586.50,610.90 L587.25,610.90 L588.00,610.90 L588.75,610.90 L589.50,610.90 L590.25,610.90 L591.00,610.90 L591.75,610.90 L592.50,610.90 L593.25,610.90 L594.00,610.90 L594.75,610.90 L595.50,610.90 L596.25,610.90 L597.00,610.90 L597.75,610.90 L598.50,610.90 L599.25,610.90 L600.00,610.90 L600.75,610.90 L601.50,610.90 L602.25,610.90 L603.00,610.90 L603.75,610.90 L604.50,610.90 L605.25,610.90 L606.00,610.90 L606.75,610.90 L607.50,610.90 L608.25,610.90 L609.00,610.90 L609.75,610.90 L610.50,610.90 L611.25,610.90 L612.00,610.90 L612.75,610.90 L613.50,610.90 L614.25,610.90 L615.00,610.90 L615.75,610.90 L616.50,610.90 L617.25,610.90 L618.00,610.90 L618.75,610.90 L619.50,610.90 L620.25,610.90 L621.00,610.90 L621.75,610.90 L622.50,610.90 L623.25,610.90 L624.00,610.90 L624.75,610.90 L625.50,610.90 L626.25,610.90 L627.00,610.90 L627.75,610.90 L628.50,610.90 L629.25,610.90 L630.00,610.90 L630.75,610.90 L631.50,610.90 L632.25,610.90 L633.00,610.90 L633.75,610.90 L634.50,610.90 L635.25,610.90 L636.00,610.90" fill="none" stroke="#1e6328" stroke-width="3.9" stroke-linejoin="round"/>
<line x1="425.80" y1="597.40" x2="455.00" y2="597.40" stroke="#1e6328" stroke-width="2.1" />
<circle cx="337.50" cy="560.20" r="4.7" fill="#e8471c"/>
<circle cx="440.20" cy="590.10" r="5.0" fill="#1e6328"/>
<line x1="309.90" y1="519.70" x2="309.90" y2="580.50" stroke="#151515" stroke-width="1.9" stroke-dasharray="5.8 2.6"/>
<line x1="365.80" y1="519.70" x2="365.80" y2="580.50" stroke="#151515" stroke-width="1.9" stroke-dasharray="5.8 2.6"/>
<line x1="262.80" y1="560.20" x2="333.00" y2="560.20" stroke="#151515" stroke-width="1.9" stroke-dasharray="5.8 2.6"/>
<line x1="425.80" y1="536.30" x2="425.80" y2="597.50" stroke="#151515" stroke-width="1.9" stroke-dasharray="5.8 2.6"/>
<line x1="455.00" y1="536.30" x2="455.00" y2="597.50" stroke="#151515" stroke-width="1.9" stroke-dasharray="5.8 2.6"/>
<line x1="455.00" y1="590.10" x2="500.40" y2="590.10" stroke="#151515" stroke-width="1.9" stroke-dasharray="5.8 2.6"/>
<line x1="318.86" y1="525.20" x2="357.04" y2="525.20" stroke="#151515" stroke-width="2.3" />
<path d="M311.90,525.20 L320.60,520.60 L318.16,525.20 L320.60,529.80Z" fill="#151515"/>
<path d="M364.00,525.20 L355.30,520.60 L357.74,525.20 L355.30,529.80Z" fill="#151515"/>
<line x1="435.56" y1="541.40" x2="445.74" y2="541.40" stroke="#151515" stroke-width="2.2" />
<path d="M429.40,541.40 L437.10,536.80 L434.94,541.40 L437.10,546.00Z" fill="#151515"/>
<path d="M451.90,541.40 L444.20,536.80 L446.36,541.40 L444.20,546.00Z" fill="#151515"/>
<line x1="264.70" y1="571.08" x2="264.70" y2="600.62" stroke="#151515" stroke-width="2.4" />
<path d="M264.70,564.20 L260.10,572.80 L264.70,570.39 L269.30,572.80Z" fill="#151515"/>
<path d="M264.70,607.50 L260.10,598.90 L264.70,601.31 L269.30,598.90Z" fill="#151515"/>
<line x1="500.40" y1="597.10" x2="500.40" y2="603.70" stroke="#151515" stroke-width="2.2" />
<path d="M500.40,591.50 L496.60,598.50 L500.40,596.54 L504.20,598.50Z" fill="#151515"/>
<path d="M500.40,609.30 L496.60,602.30 L500.40,604.26 L504.20,602.30Z" fill="#151515"/>
<text transform="translate(245.2 557.4) scale(1.22 1)" font-size="22" fill="#e8471c" text-anchor="start" font-family='"Liberation Serif", "DejaVu Serif", serif' >α</text>
<text transform="translate(257.7 564.2) scale(1.0 1)" font-size="12.6" fill="#e8471c" text-anchor="start" font-family='"Liberation Sans", sans-serif' >i</text>
<text transform="translate(313.6 511.8) scale(1.1 1)" font-size="22" fill="#e8471c" text-anchor="start" font-family='"Liberation Serif", "DejaVu Serif", serif' >σ</text>
<text transform="translate(326.6 506.1) scale(1.08 1)" font-size="12.6" fill="#e8471c" text-anchor="start" font-family='"Liberation Serif", "DejaVu Serif", serif' >2</text>
<text transform="translate(332.8 518.5) scale(1.0 1)" font-size="12.6" fill="#e8471c" text-anchor="start" font-family='"Liberation Sans", sans-serif' >i</text>
<text transform="translate(341.2 549) scale(1.0 1)" font-size="22" fill="#e8471c" text-anchor="start" font-family='"Liberation Serif", "DejaVu Serif", serif' >μ</text>
<text transform="translate(353.1 556) scale(1.0 1)" font-size="12.6" fill="#e8471c" text-anchor="start" font-family='"Liberation Sans", sans-serif' >i</text>
<text transform="translate(436.4 575.2) scale(1.0 1)" font-size="22" fill="#1e6328" text-anchor="start" font-family='"Liberation Serif", "DejaVu Serif", serif' >μ</text>
<text transform="translate(447.4 579.8) scale(1.0 1)" font-size="12.6" fill="#1e6328" text-anchor="start" font-family='"Liberation Sans", sans-serif' >j</text>
<text transform="translate(498.8 583.8) scale(1.22 1)" font-size="22" fill="#1e6328" text-anchor="start" font-family='"Liberation Serif", "DejaVu Serif", serif' >α</text>
<text transform="translate(511.0 590.6) scale(1.0 1)" font-size="12.6" fill="#1e6328" text-anchor="start" font-family='"Liberation Sans", sans-serif' >j</text>
<text transform="translate(420.6 523) scale(1.1 1)" font-size="22" fill="#1e6328" text-anchor="start" font-family='"Liberation Serif", "DejaVu Serif", serif' >σ</text>
<text transform="translate(434.2 515.3) scale(1.08 1)" font-size="12.6" fill="#1e6328" text-anchor="start" font-family='"Liberation Serif", "DejaVu Serif", serif' >2</text>
<text transform="translate(439.5 530) scale(1.0 1)" font-size="12.6" fill="#1e6328" text-anchor="start" font-family='"Liberation Sans", sans-serif' >j</text>
<text transform="translate(462.3 494.2) scale(1 1)" font-size="22" fill="#151515" text-anchor="start" font-family='"Liberation Sans", sans-serif' >D</text>
<text transform="translate(478.6 503.2) scale(1.0 1)" font-size="12" fill="#e8471c" text-anchor="start" font-family='"Liberation Sans", sans-serif' >i</text>
<text transform="translate(480.9 503.2) scale(1.0 1)" font-size="12" fill="#1e6328" text-anchor="start" font-family='"Liberation Sans", sans-serif' >j</text>
<text transform="translate(488.7 495.5) scale(1.08 1)" font-size="23" fill="#151515" text-anchor="start" font-family='"Liberation Sans", sans-serif' >=</text>
<line x1="511.20" y1="489.50" x2="660.50" y2="489.50" stroke="#151515" stroke-width="1.3" />
<line x1="513.30" y1="464.30" x2="513.30" y2="484.20" stroke="#151515" stroke-width="1.1" />
<line x1="516.20" y1="464.30" x2="516.20" y2="484.20" stroke="#151515" stroke-width="1.1" />
<text transform="translate(520.0 480.7) scale(1.0 1)" font-size="23" fill="#e8471c" text-anchor="start" font-family='"Liberation Serif", "DejaVu Serif", serif' >μ</text>
<text transform="translate(533.2 486.5) scale(1.0 1)" font-size="12.6" fill="#e8471c" text-anchor="start" font-family='"Liberation Sans", sans-serif' >i</text>
<line x1="543.30" y1="474.90" x2="554.50" y2="474.90" stroke="#151515" stroke-width="1.3" />
<text transform="translate(559.5 480.7) scale(1.0 1)" font-size="23" fill="#1e6328" text-anchor="start" font-family='"Liberation Serif", "DejaVu Serif", serif' >μ</text>
<text transform="translate(570.8 487.3) scale(1.0 1)" font-size="12.6" fill="#1e6328" text-anchor="start" font-family='"Liberation Sans", sans-serif' >j</text>
<line x1="577.00" y1="464.30" x2="577.00" y2="484.20" stroke="#151515" stroke-width="1.1" />
<line x1="580.00" y1="464.30" x2="580.00" y2="484.20" stroke="#151515" stroke-width="1.1" />
<circle cx="591.50" cy="474.90" r="1.2" fill="#151515"/>
<path d="M601.6,475.5 L603.6,474.2 L607.0,483.2 L611.0,463.7 L651,463.7" fill="none" stroke="#151515" stroke-width="1.2"/>
<text transform="translate(612.2 480.7) scale(1.2 1)" font-size="23" fill="#e8471c" text-anchor="start" font-family='"Liberation Serif", "DejaVu Serif", serif' >α</text>
<text transform="translate(626.3 486.5) scale(1.0 1)" font-size="12.6" fill="#e8471c" text-anchor="start" font-family='"Liberation Sans", sans-serif' >i</text>
<circle cx="632.60" cy="474.90" r="1.2" fill="#151515"/>
<text transform="translate(635.0 480.7) scale(1.2 1)" font-size="23" fill="#1e6328" text-anchor="start" font-family='"Liberation Serif", "DejaVu Serif", serif' >α</text>
<text transform="translate(649.0 487.3) scale(1.0 1)" font-size="12.6" fill="#1e6328" text-anchor="start" font-family='"Liberation Sans", sans-serif' >j</text>
<path d="M551.3,505 L553.7,503.5 L557.4,513.5 L562.6,494.6 L612.4,494.6" fill="none" stroke="#151515" stroke-width="1.2"/>
<text transform="translate(563.0 511.2) scale(1.1 1)" font-size="23" fill="#e8471c" text-anchor="start" font-family='"Liberation Serif", "DejaVu Serif", serif' >σ</text>
<text transform="translate(576.2 507.4) scale(1.08 1)" font-size="13.5" fill="#e8471c" text-anchor="start" font-family='"Liberation Serif", "DejaVu Serif", serif' >2</text>
<text transform="translate(582.0 518.5) scale(1.0 1)" font-size="12.6" fill="#e8471c" text-anchor="start" font-family='"Liberation Sans", sans-serif' >i</text>
<circle cx="587.80" cy="505.30" r="1.2" fill="#151515"/>
<text transform="translate(591.0 511.2) scale(1.1 1)" font-size="23" fill="#1e6328" text-anchor="start" font-family='"Liberation Serif", "DejaVu Serif", serif' >σ</text>
<text transform="translate(604.8 507.4) scale(1.08 1)" font-size="13.5" fill="#1e6328" text-anchor="start" font-family='"Liberation Serif", "DejaVu Serif", serif' >2</text>
<text transform="translate(609.2 517.5) scale(1.0 1)" font-size="12.6" fill="#1e6328" text-anchor="start" font-family='"Liberation Sans", sans-serif' >j</text>
<text transform="translate(529.4 568.6) scale(1.0 1)" font-size="17.5" fill="#151515" text-anchor="start" font-family='"Liberation Sans", sans-serif' stroke="#151515" stroke-width="0.15">I</text>
<text transform="translate(533.4 574.3) scale(1.0 1)" font-size="10.3" fill="#151515" text-anchor="start" font-family='"Liberation Sans", sans-serif' stroke="#151515" stroke-width="0.25">dist</text>
<text transform="translate(556.6 568.6) scale(1.18 1)" font-size="17" fill="#151515" text-anchor="start" font-family='"Liberation Sans", sans-serif' >=</text>
<text transform="translate(571.8 568.8) scale(1.04 1)" font-size="18" fill="#151515" text-anchor="start" font-family='"Liberation Sans", sans-serif' >&lt;</text>
<text transform="translate(584.0 568.6) scale(1.08 1)" font-size="16.5" fill="#151515" text-anchor="start" font-family='"Liberation Sans", sans-serif' >D</text>
<text transform="translate(596.2 574.8) scale(1.0 1)" font-size="10" fill="#e8471c" text-anchor="start" font-family='"Liberation Sans", sans-serif' >i</text>
<text transform="translate(598.3 574.8) scale(1.0 1)" font-size="10" fill="#1e6328" text-anchor="start" font-family='"Liberation Sans", sans-serif' >j</text>
<text transform="translate(601.4 568.8) scale(1.06 1)" font-size="18" fill="#151515" text-anchor="start" font-family='"Liberation Sans", sans-serif' >&gt;</text>
</svg>
</body></html>
